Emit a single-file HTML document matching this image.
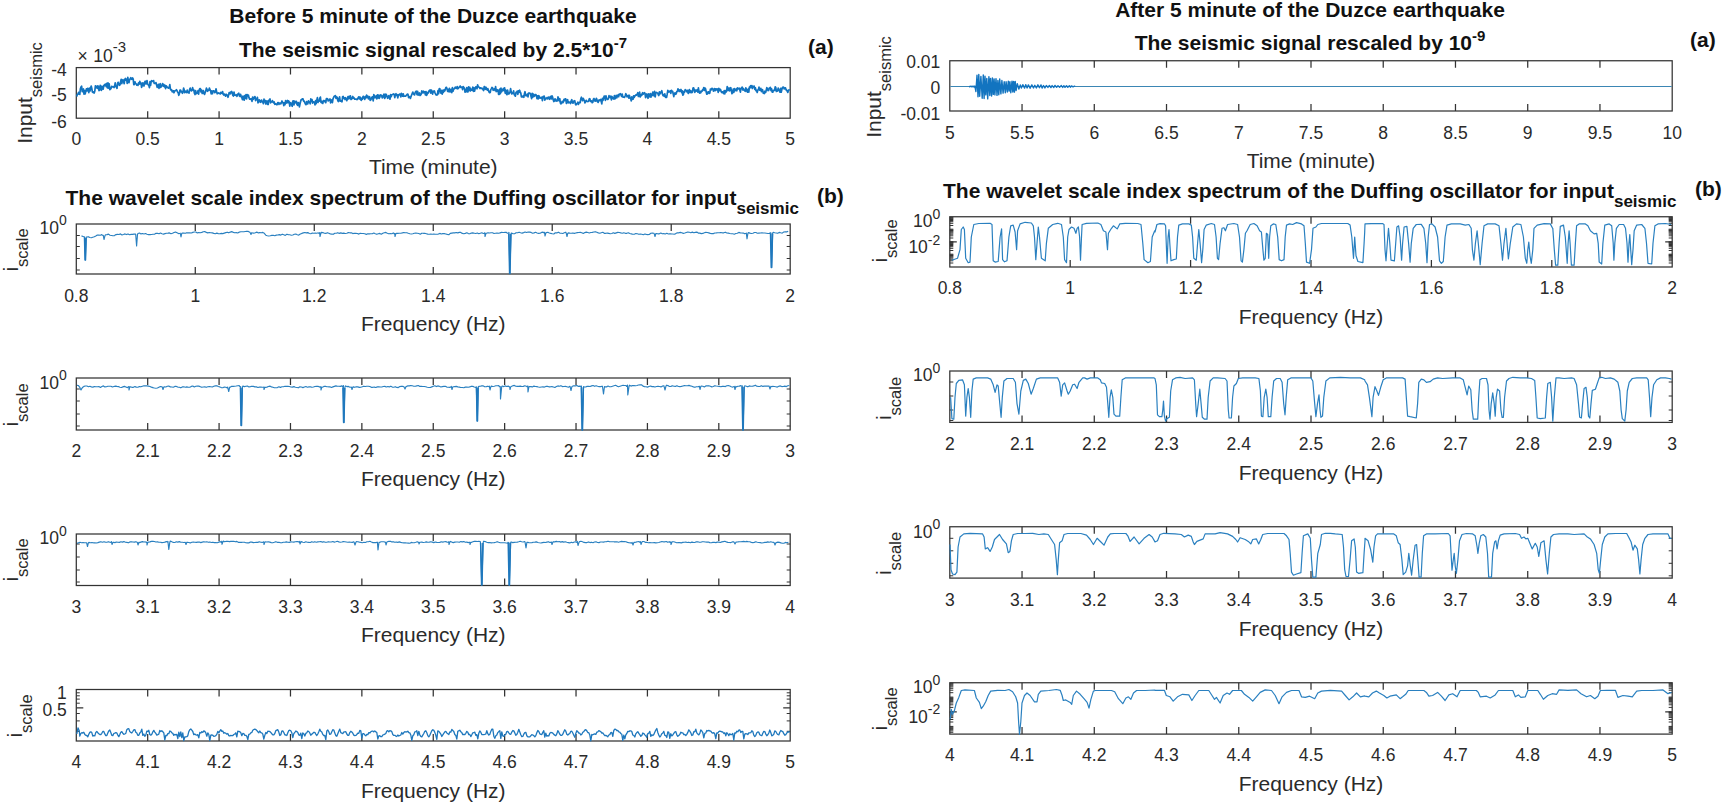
<!DOCTYPE html>
<html><head><meta charset="utf-8"><title>Duzce earthquake - wavelet scale index spectrum</title>
<style>
html,body{margin:0;padding:0;background:#fff;}
body{width:1725px;height:804px;overflow:hidden;}
svg{display:block;font-family:"Liberation Sans",Arial,Helvetica,sans-serif;}
.tk{font-size:17.5px;fill:#2a2a2a;}
.lb{font-size:21px;fill:#2a2a2a;}
.tt{font-size:21px;font-weight:bold;fill:#111;}
</style></head><body>
<svg width="1725" height="804" viewBox="0 0 1725 804">
<rect width="1725" height="804" fill="#fff"/>
<rect x="76.3" y="67.6" width="713.9000000000001" height="50.60000000000001" fill="none" stroke="#333333" stroke-width="1.25"/>
<text x="76.30" y="145" class="tk" text-anchor="middle">0</text>
<path d="M147.69 118.2v-7M147.69 67.6v7" stroke="#333333" stroke-width="1.25"/>
<text x="147.69" y="145" class="tk" text-anchor="middle">0.5</text>
<path d="M219.08 118.2v-7M219.08 67.6v7" stroke="#333333" stroke-width="1.25"/>
<text x="219.08" y="145" class="tk" text-anchor="middle">1</text>
<path d="M290.47 118.2v-7M290.47 67.6v7" stroke="#333333" stroke-width="1.25"/>
<text x="290.47" y="145" class="tk" text-anchor="middle">1.5</text>
<path d="M361.86 118.2v-7M361.86 67.6v7" stroke="#333333" stroke-width="1.25"/>
<text x="361.86" y="145" class="tk" text-anchor="middle">2</text>
<path d="M433.25 118.2v-7M433.25 67.6v7" stroke="#333333" stroke-width="1.25"/>
<text x="433.25" y="145" class="tk" text-anchor="middle">2.5</text>
<path d="M504.64 118.2v-7M504.64 67.6v7" stroke="#333333" stroke-width="1.25"/>
<text x="504.64" y="145" class="tk" text-anchor="middle">3</text>
<path d="M576.03 118.2v-7M576.03 67.6v7" stroke="#333333" stroke-width="1.25"/>
<text x="576.03" y="145" class="tk" text-anchor="middle">3.5</text>
<path d="M647.42 118.2v-7M647.42 67.6v7" stroke="#333333" stroke-width="1.25"/>
<text x="647.42" y="145" class="tk" text-anchor="middle">4</text>
<path d="M718.81 118.2v-7M718.81 67.6v7" stroke="#333333" stroke-width="1.25"/>
<text x="718.81" y="145" class="tk" text-anchor="middle">4.5</text>
<text x="790.20" y="145" class="tk" text-anchor="middle">5</text>
<text x="433.25" y="173.5" class="lb" text-anchor="middle">Time (minute)</text>
<text x="66.8" y="76.2" class="tk" text-anchor="end">-4</text>
<text x="66.8" y="100.8" class="tk" text-anchor="end">-5</text>
<text x="66.8" y="127.6" class="tk" text-anchor="end">-6</text>
<text x="77.5" y="62" class="tk">×<tspan dx="5.5">10</tspan><tspan dy="-10" style="font-size:15px">-3</tspan></text>
<text transform="translate(31.6 93) rotate(-90)" class="lb" text-anchor="middle" style="font-size:21px">Input<tspan dy="10" style="font-size:16.5px">seismic</tspan></text>
<text x="433" y="23" class="tt" text-anchor="middle">Before 5 minute of the Duzce earthquake</text>
<text x="433" y="56.5" class="tt" text-anchor="middle">The seismic signal rescaled by 2.5*10<tspan dy="-9" style="font-size:15px">-7</tspan></text>
<text x="808" y="54" class="tt">(a)</text>
<text x="65.5" y="204.5" class="tt">The wavelet scale index spectrum of the Duffing oscillator for input<tspan dy="9.5" style="font-size:17px">seismic</tspan></text>
<text x="817" y="203" class="tt">(b)</text>
<path d="M76.8 96.4 77.4 94.3 78.0 94.2 78.6 92.3 79.2 93.9 79.8 94.4 80.4 88.7 81.0 87.0 81.6 86.2 82.2 91.7 82.8 89.8 83.4 88.9 84.0 94.1 84.6 90.5 85.2 93.8 85.8 91.2 86.4 88.9 87.0 90.9 87.6 88.4 88.2 89.1 88.8 92.7 89.4 88.0 90.0 91.0 90.6 88.2 91.2 86.0 91.8 88.5 92.4 92.1 93.0 92.4 93.6 91.9 94.2 93.1 94.8 91.1 95.4 85.9 96.0 86.1 96.6 87.3 97.2 88.4 97.8 85.8 98.4 86.6 99.0 90.6 99.6 90.1 100.2 85.3 100.8 86.0 101.4 90.5 102.0 86.3 102.6 86.9 103.2 89.2 103.8 85.4 104.4 85.8 105.0 84.3 105.6 84.2 106.2 86.6 106.8 83.4 107.4 88.0 108.0 82.8 108.6 88.2 109.2 83.9 109.8 89.7 110.4 89.0 111.0 88.5 111.6 86.4 112.2 87.0 112.8 86.7 113.4 86.7 114.0 87.6 114.6 86.3 115.2 82.9 115.8 86.6 116.4 87.0 117.0 88.3 117.6 83.3 118.2 82.3 118.8 84.0 119.4 85.3 120.0 84.8 120.6 81.6 121.2 79.3 121.8 83.6 122.4 80.1 123.0 79.7 123.6 81.9 124.2 83.6 124.8 79.4 125.4 78.4 126.0 80.2 126.6 79.2 127.2 83.4 127.8 77.3 128.4 80.9 129.0 82.7 129.6 79.5 130.2 78.7 130.8 77.7 131.4 79.3 132.0 79.1 132.6 77.9 133.2 79.2 133.8 84.7 134.4 84.4 135.0 81.8 135.6 83.7 136.2 83.8 136.8 85.0 137.4 84.7 138.0 85.3 138.6 82.8 139.2 84.1 139.8 81.3 140.4 83.9 141.0 83.0 141.6 87.4 142.2 84.6 142.8 82.9 143.4 85.7 144.0 85.9 144.6 82.3 145.2 81.2 145.8 83.8 146.4 83.9 147.0 80.5 147.6 83.9 148.2 84.9 148.8 85.4 149.4 87.6 150.0 81.5 150.6 85.4 151.2 81.3 151.8 80.7 152.4 81.3 153.0 81.6 153.6 80.6 154.2 83.4 154.8 83.5 155.4 83.3 156.0 82.7 156.6 85.0 157.2 87.4 157.8 86.5 158.4 84.3 159.0 88.3 159.6 84.6 160.2 83.7 160.8 87.5 161.4 86.1 162.0 85.4 162.6 83.5 163.2 86.1 163.8 84.6 164.4 86.8 165.0 85.2 165.6 88.7 166.2 85.8 166.8 86.8 167.4 87.2 168.0 87.8 168.6 88.2 169.2 87.4 169.8 84.7 170.4 89.0 171.0 90.1 171.6 89.7 172.2 91.7 172.8 91.8 173.4 90.8 174.0 92.8 174.6 91.1 175.2 90.8 175.8 90.5 176.4 89.7 177.0 90.7 177.6 91.9 178.2 92.7 178.8 95.3 179.4 93.7 180.0 90.0 180.6 90.0 181.2 91.9 181.8 91.7 182.4 93.3 183.0 92.1 183.6 88.1 184.2 90.0 184.8 92.7 185.4 91.2 186.0 91.7 186.6 92.6 187.2 90.1 187.8 92.5 188.4 92.7 189.0 93.0 189.6 89.4 190.2 88.1 190.8 90.3 191.4 90.9 192.0 90.3 192.6 87.6 193.2 90.0 193.8 89.8 194.4 93.1 195.0 94.5 195.6 90.6 196.2 93.7 196.8 93.5 197.4 92.8 198.0 90.7 198.6 94.1 199.2 89.8 199.8 88.7 200.4 88.7 201.0 92.0 201.6 90.0 202.2 93.5 202.8 93.0 203.4 90.6 204.0 93.7 204.6 94.3 205.2 92.5 205.8 90.9 206.4 88.2 207.0 89.4 207.6 91.3 208.2 90.2 208.8 90.2 209.4 88.0 210.0 89.7 210.6 90.9 211.2 93.9 211.8 90.8 212.4 93.7 213.0 91.2 213.6 90.8 214.2 91.2 214.8 92.7 215.4 92.2 216.0 88.8 216.6 91.6 217.2 93.8 217.8 93.4 218.4 92.8 219.0 93.3 219.6 93.4 220.2 94.0 220.8 92.3 221.4 93.2 222.0 93.3 222.6 91.6 223.2 94.2 223.8 95.0 224.4 94.1 225.0 94.4 225.6 96.2 226.2 94.3 226.8 94.7 227.4 95.6 228.0 97.3 228.6 95.0 229.2 92.5 229.8 92.6 230.4 93.8 231.0 91.7 231.6 91.4 232.2 92.7 232.8 95.3 233.4 96.1 234.0 92.0 234.6 95.1 235.2 94.8 235.8 95.4 236.4 95.0 237.0 96.3 237.6 94.0 238.2 94.3 238.8 93.2 239.4 96.1 240.0 96.4 240.6 94.4 241.2 96.3 241.8 97.6 242.4 99.6 243.0 96.0 243.6 98.8 244.2 100.2 244.8 95.7 245.4 98.4 246.0 94.6 246.6 98.8 247.2 94.5 247.8 95.8 248.4 95.2 249.0 97.7 249.6 99.1 250.2 99.3 250.8 98.9 251.4 98.8 252.0 101.4 252.6 97.2 253.2 99.5 253.8 98.2 254.4 96.9 255.0 96.6 255.6 100.7 256.2 99.5 256.8 99.1 257.4 97.4 258.0 102.9 258.6 101.8 259.2 99.8 259.8 100.3 260.4 102.3 261.0 102.0 261.6 100.1 262.2 101.6 262.8 102.1 263.4 103.6 264.0 99.1 264.6 102.0 265.2 100.5 265.8 104.0 266.4 101.8 267.0 100.8 267.6 104.4 268.2 104.5 268.8 100.6 269.4 99.9 270.0 98.9 270.6 102.8 271.2 101.8 271.8 102.0 272.4 100.6 273.0 101.8 273.6 102.9 274.2 102.0 274.8 104.3 275.4 103.8 276.0 103.9 276.6 104.7 277.2 104.6 277.8 102.6 278.4 102.6 279.0 104.4 279.6 103.1 280.2 103.3 280.8 103.9 281.4 102.7 282.0 101.0 282.6 102.7 283.2 102.5 283.8 105.7 284.4 102.8 285.0 104.7 285.6 100.7 286.2 103.2 286.8 102.1 287.4 100.5 288.0 102.8 288.6 100.9 289.2 102.0 289.8 106.1 290.4 102.7 291.0 103.0 291.6 104.7 292.2 106.3 292.8 101.0 293.4 100.9 294.0 104.9 294.6 101.1 295.2 102.9 295.8 101.5 296.4 101.4 297.0 104.5 297.6 105.3 298.2 102.6 298.8 103.2 299.4 106.9 300.0 104.0 300.6 101.5 301.2 99.5 301.8 99.6 302.4 98.8 303.0 98.9 303.6 101.1 304.2 101.2 304.8 102.6 305.4 103.9 306.0 104.7 306.6 101.6 307.2 103.9 307.8 103.8 308.4 100.8 309.0 102.2 309.6 102.1 310.2 103.8 310.8 98.9 311.4 101.3 312.0 99.6 312.6 103.1 313.2 101.7 313.8 102.2 314.4 102.1 315.0 104.9 315.6 100.6 316.2 103.6 316.8 100.2 317.4 97.6 318.0 102.4 318.6 100.8 319.2 101.2 319.8 98.1 320.4 97.1 321.0 102.3 321.6 101.3 322.2 103.2 322.8 103.4 323.4 100.6 324.0 100.5 324.6 101.6 325.2 100.6 325.8 102.7 326.4 98.7 327.0 98.7 327.6 98.8 328.2 101.0 328.8 100.3 329.4 100.0 330.0 99.0 330.6 102.8 331.2 100.4 331.8 99.8 332.4 102.7 333.0 98.9 333.6 97.5 334.2 96.3 334.8 96.1 335.4 95.6 336.0 98.4 336.6 97.0 337.2 97.5 337.8 100.5 338.4 101.6 339.0 98.7 339.6 96.8 340.2 101.1 340.8 100.9 341.4 101.3 342.0 101.8 342.6 96.8 343.2 96.4 343.8 98.5 344.4 97.9 345.0 99.5 345.6 97.7 346.2 99.2 346.8 100.7 347.4 98.6 348.0 96.6 348.6 98.9 349.2 96.3 349.8 98.5 350.4 95.8 351.0 99.5 351.6 99.2 352.2 98.1 352.8 96.5 353.4 98.2 354.0 97.7 354.6 99.2 355.2 99.2 355.8 99.1 356.4 99.0 357.0 99.7 357.6 99.0 358.2 97.7 358.8 96.8 359.4 98.9 360.0 97.0 360.6 99.4 361.2 100.4 361.8 98.1 362.4 99.3 363.0 96.6 363.6 96.4 364.2 98.2 364.8 99.4 365.4 96.6 366.0 97.9 366.6 95.2 367.2 97.5 367.8 96.1 368.4 98.9 369.0 97.2 369.6 96.7 370.2 100.3 370.8 99.9 371.4 98.4 372.0 97.0 372.6 96.9 373.2 100.8 373.8 94.7 374.4 96.1 375.0 97.8 375.6 96.4 376.2 95.9 376.8 98.8 377.4 94.9 378.0 97.8 378.6 95.0 379.2 98.4 379.8 97.4 380.4 94.9 381.0 95.2 381.6 95.3 382.2 97.9 382.8 97.2 383.4 95.5 384.0 94.1 384.6 98.5 385.2 97.4 385.8 94.1 386.4 94.8 387.0 96.4 387.6 98.3 388.2 97.1 388.8 95.7 389.4 97.8 390.0 99.2 390.6 94.7 391.2 96.7 391.8 94.7 392.4 94.5 393.0 94.2 393.6 93.9 394.2 94.5 394.8 97.6 395.4 94.4 396.0 93.7 396.6 95.5 397.2 94.7 397.8 97.8 398.4 94.8 399.0 94.9 399.6 94.1 400.2 94.1 400.8 96.9 401.4 93.3 402.0 95.0 402.6 96.2 403.2 93.8 403.8 96.3 404.4 96.0 405.0 96.2 405.6 96.2 406.2 95.4 406.8 94.9 407.4 94.1 408.0 94.3 408.6 97.6 409.2 96.6 409.8 97.0 410.4 98.4 411.0 96.6 411.6 95.0 412.2 93.5 412.8 92.1 413.4 93.7 414.0 94.6 414.6 94.9 415.2 92.4 415.8 91.5 416.4 91.1 417.0 94.6 417.6 91.3 418.2 95.2 418.8 93.7 419.4 92.9 420.0 95.5 420.6 95.0 421.2 94.1 421.8 90.8 422.4 92.2 423.0 92.9 423.6 91.2 424.2 92.7 424.8 91.8 425.4 94.9 426.0 91.5 426.6 95.3 427.2 94.2 427.8 92.5 428.4 92.8 429.0 90.9 429.6 90.3 430.2 90.0 430.8 93.2 431.4 90.0 432.0 92.2 432.6 94.1 433.2 91.1 433.8 91.8 434.4 91.0 435.0 92.8 435.6 94.1 436.2 95.1 436.8 94.5 437.4 94.9 438.0 90.6 438.6 93.7 439.2 88.8 439.8 88.6 440.4 91.4 441.0 93.1 441.6 90.3 442.2 94.1 442.8 90.4 443.4 92.4 444.0 89.9 444.6 91.0 445.2 89.8 445.8 87.7 446.4 87.3 447.0 88.6 447.6 91.3 448.2 89.5 448.8 91.7 449.4 88.4 450.0 91.9 450.6 91.3 451.2 89.3 451.8 92.6 452.4 87.5 453.0 91.2 453.6 89.2 454.2 88.9 454.8 87.9 455.4 87.1 456.0 88.4 456.6 88.5 457.2 86.5 457.8 88.8 458.4 88.4 459.0 87.5 459.6 86.6 460.2 86.0 460.8 87.4 461.4 87.0 462.0 87.2 462.6 89.6 463.2 86.5 463.8 87.6 464.4 88.0 465.0 92.2 465.6 89.5 466.2 91.7 466.8 87.7 467.4 92.0 468.0 92.0 468.6 86.9 469.2 90.3 469.8 87.3 470.4 91.0 471.0 89.1 471.6 90.2 472.2 90.2 472.8 87.2 473.4 91.3 474.0 87.9 474.6 91.1 475.2 88.3 475.8 86.8 476.4 87.2 477.0 88.8 477.6 84.8 478.2 86.1 478.8 87.1 479.4 87.5 480.0 88.6 480.6 87.9 481.2 88.1 481.8 88.6 482.4 88.3 483.0 89.6 483.6 90.6 484.2 86.5 484.8 87.0 485.4 89.3 486.0 87.3 486.6 89.2 487.2 90.0 487.8 88.6 488.4 90.4 489.0 91.9 489.6 92.6 490.2 92.5 490.8 89.6 491.4 88.6 492.0 87.4 492.6 87.9 493.2 90.3 493.8 89.4 494.4 89.0 495.0 90.4 495.6 86.7 496.2 91.6 496.8 89.5 497.4 91.2 498.0 90.0 498.6 94.4 499.2 94.3 499.8 89.2 500.4 93.6 501.0 88.1 501.6 91.8 502.2 90.9 502.8 89.6 503.4 88.5 504.0 90.7 504.6 87.9 505.2 93.2 505.8 90.2 506.4 93.8 507.0 94.7 507.6 90.2 508.2 93.2 508.8 94.1 509.4 93.3 510.0 92.1 510.6 88.6 511.2 91.8 511.8 93.9 512.4 93.3 513.0 92.8 513.6 90.9 514.2 94.6 514.8 95.2 515.4 96.2 516.0 92.3 516.6 92.4 517.2 91.2 517.8 94.3 518.4 90.8 519.0 92.5 519.6 90.2 520.2 91.8 520.8 93.2 521.4 96.9 522.0 96.1 522.6 96.9 523.2 95.8 523.8 97.3 524.4 94.0 525.0 91.7 525.6 95.2 526.2 95.8 526.8 95.5 527.4 94.1 528.0 96.8 528.6 93.0 529.2 93.2 529.8 93.1 530.4 93.6 531.0 96.3 531.6 98.6 532.2 93.4 532.8 97.1 533.4 94.0 534.0 96.4 534.6 96.1 535.2 94.5 535.8 94.6 536.4 95.4 537.0 98.7 537.6 95.8 538.2 98.9 538.8 95.7 539.4 96.8 540.0 98.2 540.6 97.6 541.2 98.1 541.8 97.2 542.4 100.6 543.0 96.5 543.6 96.8 544.2 96.2 544.8 100.2 545.4 98.8 546.0 98.1 546.6 98.6 547.2 97.5 547.8 98.8 548.4 98.1 549.0 96.9 549.6 99.3 550.2 98.5 550.8 96.4 551.4 98.9 552.0 95.9 552.6 97.2 553.2 99.8 553.8 101.5 554.4 101.1 555.0 98.8 555.6 99.4 556.2 101.1 556.8 100.7 557.4 100.8 558.0 96.9 558.6 98.7 559.2 100.8 559.8 98.7 560.4 103.1 561.0 103.9 561.6 103.0 562.2 101.4 562.8 102.7 563.4 101.9 564.0 99.4 564.6 100.5 565.2 98.8 565.8 99.1 566.4 103.5 567.0 100.5 567.6 99.6 568.2 102.8 568.8 101.9 569.4 102.7 570.0 102.1 570.6 103.5 571.2 100.9 571.8 99.7 572.4 102.4 573.0 103.2 573.6 101.7 574.2 100.7 574.8 100.9 575.4 104.1 576.0 104.9 576.6 103.7 577.2 103.7 577.8 102.2 578.4 104.5 579.0 102.7 579.6 102.1 580.2 102.7 580.8 98.8 581.4 97.2 582.0 98.9 582.6 100.6 583.2 98.4 583.8 99.5 584.4 100.8 585.0 102.9 585.6 101.9 586.2 100.4 586.8 101.1 587.4 101.5 588.0 101.6 588.6 101.3 589.2 99.0 589.8 98.6 590.4 101.0 591.0 101.5 591.6 100.9 592.2 102.7 592.8 102.3 593.4 99.1 594.0 98.5 594.6 100.9 595.2 99.7 595.8 101.1 596.4 98.3 597.0 99.9 597.6 101.7 598.2 102.4 598.8 100.1 599.4 100.7 600.0 99.8 600.6 99.5 601.2 101.4 601.8 103.9 602.4 98.3 603.0 100.4 603.6 98.2 604.2 96.1 604.8 96.3 605.4 100.3 606.0 95.8 606.6 99.0 607.2 98.9 607.8 99.5 608.4 98.5 609.0 95.6 609.6 96.6 610.2 97.6 610.8 96.1 611.4 99.8 612.0 96.5 612.6 98.3 613.2 98.0 613.8 99.0 614.4 95.7 615.0 98.8 615.6 97.7 616.2 95.4 616.8 97.9 617.4 95.7 618.0 94.9 618.6 96.7 619.2 94.1 619.8 94.5 620.4 93.7 621.0 94.9 621.6 96.3 622.2 94.1 622.8 97.0 623.4 97.1 624.0 97.2 624.6 97.3 625.2 95.8 625.8 93.7 626.4 95.0 627.0 96.8 627.6 96.4 628.2 95.3 628.8 98.2 629.4 95.4 630.0 97.8 630.6 97.8 631.2 100.9 631.8 96.9 632.4 97.9 633.0 99.3 633.6 95.8 634.2 97.5 634.8 95.8 635.4 95.6 636.0 94.9 636.6 95.1 637.2 94.2 637.8 92.7 638.4 96.5 639.0 96.4 639.6 92.2 640.2 96.9 640.8 96.1 641.4 94.5 642.0 95.0 642.6 92.7 643.2 94.1 643.8 93.5 644.4 92.7 645.0 93.3 645.6 97.6 646.2 95.0 646.8 94.0 647.4 96.6 648.0 98.3 648.6 93.9 649.2 94.2 649.8 96.9 650.4 93.7 651.0 97.2 651.6 94.0 652.2 95.5 652.8 92.0 653.4 92.9 654.0 95.8 654.6 91.4 655.2 96.8 655.8 93.0 656.4 92.4 657.0 92.8 657.6 93.0 658.2 94.5 658.8 95.6 659.4 91.8 660.0 94.0 660.6 92.0 661.2 92.5 661.8 90.7 662.4 93.9 663.0 95.5 663.6 94.8 664.2 96.2 664.8 93.8 665.4 97.0 666.0 97.5 666.6 97.4 667.2 94.2 667.8 90.3 668.4 91.5 669.0 92.0 669.6 91.3 670.2 90.8 670.8 93.4 671.4 90.3 672.0 91.2 672.6 91.3 673.2 93.9 673.8 96.6 674.4 93.3 675.0 92.8 675.6 94.3 676.2 93.7 676.8 91.6 677.4 91.4 678.0 88.8 678.6 90.2 679.2 91.5 679.8 90.0 680.4 91.0 681.0 89.5 681.6 92.6 682.2 90.8 682.8 95.1 683.4 94.7 684.0 91.3 684.6 92.0 685.2 89.6 685.8 90.7 686.4 90.4 687.0 91.9 687.6 90.4 688.2 93.4 688.8 91.5 689.4 89.5 690.0 92.7 690.6 90.9 691.2 91.0 691.8 92.7 692.4 92.1 693.0 88.0 693.6 87.8 694.2 89.8 694.8 92.4 695.4 91.2 696.0 90.0 696.6 91.1 697.2 90.0 697.8 92.1 698.4 87.9 699.0 91.9 699.6 93.1 700.2 91.4 700.8 92.8 701.4 91.0 702.0 91.4 702.6 89.7 703.2 89.8 703.8 87.5 704.4 90.5 705.0 88.0 705.6 88.9 706.2 92.1 706.8 94.2 707.4 93.8 708.0 91.9 708.6 91.8 709.2 93.4 709.8 93.1 710.4 89.2 711.0 90.0 711.6 88.6 712.2 88.4 712.8 88.9 713.4 91.1 714.0 90.6 714.6 88.6 715.2 90.7 715.8 88.9 716.4 88.9 717.0 90.0 717.6 89.0 718.2 92.4 718.8 88.4 719.4 90.8 720.0 89.2 720.6 89.7 721.2 91.8 721.8 92.6 722.4 91.8 723.0 92.8 723.6 93.6 724.2 90.6 724.8 93.9 725.4 90.7 726.0 92.1 726.6 91.3 727.2 86.6 727.8 88.0 728.4 90.5 729.0 88.1 729.6 90.8 730.2 88.0 730.8 87.6 731.4 90.9 732.0 93.7 732.6 92.3 733.2 89.2 733.8 92.4 734.4 88.7 735.0 90.8 735.6 89.6 736.2 89.0 736.8 90.8 737.4 87.9 738.0 88.8 738.6 88.8 739.2 88.2 739.8 89.7 740.4 92.1 741.0 88.2 741.6 87.9 742.2 87.1 742.8 90.0 743.4 88.6 744.0 90.0 744.6 90.5 745.2 91.3 745.8 87.8 746.4 89.2 747.0 91.5 747.6 92.2 748.2 89.2 748.8 92.1 749.4 87.2 750.0 87.8 750.6 85.7 751.2 87.3 751.8 85.6 752.4 88.5 753.0 86.3 753.6 86.8 754.2 86.1 754.8 89.4 755.4 87.9 756.0 90.7 756.6 90.4 757.2 92.5 757.8 90.0 758.4 89.7 759.0 87.2 759.6 90.2 760.2 90.0 760.8 88.4 761.4 91.6 762.0 89.6 762.6 89.8 763.2 93.2 763.8 92.3 764.4 93.6 765.0 91.0 765.6 92.4 766.2 90.4 766.8 87.6 767.4 88.7 768.0 90.6 768.6 90.5 769.2 88.2 769.8 88.1 770.4 87.4 771.0 90.7 771.6 88.8 772.2 92.2 772.8 92.2 773.4 90.3 774.0 90.4 774.6 90.3 775.2 86.8 775.8 87.6 776.4 91.5 777.0 91.3 777.6 90.9 778.2 88.1 778.8 90.1 779.4 90.8 780.0 92.2 780.6 88.4 781.2 92.2 781.8 89.7 782.4 87.6 783.0 87.0 783.6 87.3 784.2 88.9 784.8 88.2 785.4 87.8 786.0 89.5 786.6 90.6 787.2 90.7 787.8 92.4 788.4 90.3 789.0 89.9 789.6 90.6" fill="none" stroke="#1274c0" stroke-width="1.7" stroke-linejoin="round" opacity="1"/>
<rect x="76.3" y="224" width="713.9000000000001" height="50" fill="none" stroke="#333333" stroke-width="1.25"/>
<text x="76.30" y="301.5" class="tk" text-anchor="middle">0.8</text>
<path d="M195.28 274v-7M195.28 224v7" stroke="#333333" stroke-width="1.25"/>
<text x="195.28" y="301.5" class="tk" text-anchor="middle">1</text>
<path d="M314.27 274v-7M314.27 224v7" stroke="#333333" stroke-width="1.25"/>
<text x="314.27" y="301.5" class="tk" text-anchor="middle">1.2</text>
<path d="M433.25 274v-7M433.25 224v7" stroke="#333333" stroke-width="1.25"/>
<text x="433.25" y="301.5" class="tk" text-anchor="middle">1.4</text>
<path d="M552.23 274v-7M552.23 224v7" stroke="#333333" stroke-width="1.25"/>
<text x="552.23" y="301.5" class="tk" text-anchor="middle">1.6</text>
<path d="M671.22 274v-7M671.22 224v7" stroke="#333333" stroke-width="1.25"/>
<text x="671.22" y="301.5" class="tk" text-anchor="middle">1.8</text>
<text x="790.20" y="301.5" class="tk" text-anchor="middle">2</text>
<text x="433.25" y="330.5" class="lb" text-anchor="middle">Frequency (Hz)</text>
<text x="66.8" y="233.8" class="tk" text-anchor="end">10<tspan dy="-8.5" style="font-size:14px">0</tspan></text>
<path d="M76.3 235.5h3.5M790.2 235.5h-3.5" stroke="#333333" stroke-width="1"/>
<path d="M76.3 246.5h3.5M790.2 246.5h-3.5" stroke="#333333" stroke-width="1"/>
<path d="M76.3 258.5h3.5M790.2 258.5h-3.5" stroke="#333333" stroke-width="1"/>
<path d="M76.3 270h3.5M790.2 270h-3.5" stroke="#333333" stroke-width="1"/>
<text transform="translate(18.3 250) rotate(-90)" class="lb" text-anchor="middle" style="font-size:21px">i<tspan dy="10" style="font-size:16.5px">scale</tspan></text>
<path d="M81.5 235.9 83.0 236.5 84.3 237.1 84.5 236.9 85.3 260.0 86.3 237.1 86.8 237.0 88.3 236.7 89.8 237.5 91.3 237.7 92.8 237.2 94.3 236.8 95.8 236.0 97.3 235.1 98.8 235.0 100.3 235.2 101.8 234.6 103.0 235.6 103.3 235.3 104.0 239.5 105.0 235.6 105.5 234.8 107.0 234.6 108.5 234.1 110.0 235.2 111.5 235.5 113.0 235.8 114.5 235.6 116.0 234.6 117.5 234.4 119.0 234.5 120.5 233.9 122.0 234.9 123.5 234.5 125.0 233.9 126.5 234.6 128.0 233.9 129.5 234.7 131.0 234.4 132.5 234.4 134.0 234.1 135.5 234.0 135.7 234.4 136.6 246.0 137.5 234.4 138.0 233.5 139.5 233.0 141.0 233.9 142.5 233.5 144.0 234.0 145.5 233.5 147.0 234.2 148.5 234.6 150.0 234.6 151.5 234.5 153.0 234.2 154.5 234.2 156.0 233.3 157.5 233.3 159.0 233.8 160.5 233.1 162.0 233.8 163.5 234.1 165.0 233.6 166.5 233.2 168.0 233.1 169.5 232.9 171.0 233.7 172.5 233.3 174.0 232.5 175.5 232.1 177.0 232.8 178.5 233.6 180.0 233.3 180.2 233.2 181.0 237.0 181.8 233.2 182.3 233.1 183.8 233.1 185.3 233.3 186.8 232.7 188.3 232.9 189.8 232.9 191.3 233.0 192.8 232.4 194.3 232.0 195.8 232.0 197.3 232.9 198.8 232.5 200.3 232.7 201.8 232.4 203.3 231.8 204.8 231.5 206.3 232.4 207.8 232.9 209.3 232.5 210.8 232.8 212.3 232.9 213.8 233.4 215.3 233.7 216.8 233.1 218.3 233.6 219.8 233.8 221.3 233.4 222.8 233.6 224.3 233.1 225.8 232.6 227.3 232.2 228.8 232.8 230.3 232.1 231.8 231.6 233.3 232.4 234.8 232.8 236.3 232.6 237.8 233.0 239.3 232.1 240.8 231.8 242.3 231.7 243.8 231.8 245.3 231.5 246.8 231.2 248.3 231.4 249.8 232.3 250.2 232.6 251.0 234.5 251.8 232.6 252.3 233.0 253.8 233.1 255.3 232.7 256.8 232.1 258.3 232.9 259.8 232.6 261.3 232.8 262.8 232.4 264.3 233.3 265.8 235.2 267.3 235.7 268.8 236.0 270.3 235.8 271.8 235.4 273.3 235.3 274.8 235.7 276.3 235.1 277.8 235.0 279.3 234.6 280.8 235.1 282.3 234.2 283.8 234.7 285.3 235.4 286.8 234.3 288.3 234.6 289.8 234.8 291.3 235.2 292.8 235.0 294.3 234.3 295.8 234.1 297.3 234.8 298.8 235.1 300.3 234.1 301.8 233.4 303.3 232.9 304.8 232.5 306.3 232.9 307.8 232.6 309.3 233.5 310.8 233.7 312.3 233.0 313.8 233.2 315.3 233.0 316.8 233.2 318.3 232.8 319.2 233.7 319.8 232.6 320.0 236.5 320.8 233.7 321.3 232.4 322.8 232.6 324.3 233.3 325.8 233.4 327.3 232.7 328.8 233.3 330.3 233.9 331.8 234.1 333.3 234.3 334.8 233.2 336.3 233.2 337.8 232.7 339.3 233.4 340.8 232.9 342.3 233.4 343.8 233.1 345.3 233.5 346.8 233.2 348.3 232.6 349.8 232.8 351.3 232.8 352.8 233.6 354.3 233.3 355.8 233.3 357.3 233.5 358.8 234.1 360.3 233.3 361.8 233.5 363.3 233.5 364.8 233.8 366.3 234.4 367.8 233.7 369.3 233.9 370.8 233.8 372.3 233.7 373.8 233.0 375.3 233.7 376.8 234.3 378.3 233.8 379.8 233.4 381.3 234.2 382.8 233.3 384.3 232.7 385.8 232.4 387.3 233.3 388.8 233.8 390.3 233.6 391.8 233.7 393.3 232.9 394.2 233.8 394.8 233.4 395.0 236.5 395.8 233.8 396.3 233.3 397.8 233.4 399.3 233.3 400.8 233.2 402.3 232.9 403.8 232.5 405.3 232.8 406.8 232.7 408.3 233.3 409.8 233.8 411.3 234.0 412.8 233.7 414.3 233.2 415.8 233.1 417.3 233.2 418.8 233.5 420.3 234.2 421.8 233.2 423.3 233.3 424.8 233.3 426.3 233.7 427.8 234.1 429.3 234.2 430.8 234.1 432.3 234.2 433.8 234.1 435.3 234.3 436.8 234.2 438.3 234.1 439.8 233.4 441.3 234.0 442.8 233.6 444.3 233.6 445.8 234.0 447.3 234.4 448.8 234.7 450.3 233.4 451.8 233.1 453.3 232.9 454.8 232.9 456.3 232.5 457.8 232.9 459.3 232.4 460.8 232.4 462.3 233.4 463.8 233.7 465.3 233.4 466.8 232.8 468.3 233.6 469.8 233.8 471.3 233.1 472.8 232.9 474.3 233.2 475.8 233.5 477.3 233.0 478.8 233.7 480.3 233.2 481.8 232.8 483.3 233.5 484.0 233.4 484.8 232.8 485.0 236.5 486.0 233.4 486.5 233.2 488.0 232.7 489.5 233.0 491.0 232.7 492.5 232.7 494.0 233.5 495.5 233.3 497.0 233.1 498.5 233.3 500.0 232.9 501.5 232.4 503.0 232.5 504.5 232.4 506.0 232.2 507.5 233.2 508.5 233.3 509.0 232.4 509.8 273.5 511.1 233.3 511.6 233.1 513.1 233.7 514.6 233.7 516.1 232.7 517.6 232.8 519.1 232.2 520.6 232.7 522.1 233.1 523.6 232.6 525.1 232.0 526.6 232.5 528.1 232.0 529.6 232.1 531.1 232.4 532.6 233.2 534.1 232.9 535.6 232.3 537.1 233.0 538.6 233.4 540.1 233.3 541.6 232.4 543.1 232.1 544.2 233.2 544.6 232.3 545.0 236.0 545.8 233.2 546.3 232.6 547.8 232.3 549.3 233.0 550.8 233.4 552.3 233.8 553.8 234.0 555.3 232.8 556.8 232.9 558.3 232.2 559.8 233.1 561.3 233.3 562.8 233.5 564.3 232.8 565.8 232.2 566.2 233.2 567.0 236.5 567.8 233.2 568.3 232.9 569.8 233.1 571.3 233.2 572.8 233.0 574.3 233.4 575.8 233.0 577.3 232.6 578.8 232.5 580.3 232.4 581.8 232.8 583.3 233.5 584.8 232.6 586.3 232.1 587.8 232.5 589.3 233.0 590.8 232.5 592.3 232.4 593.8 232.0 595.3 231.7 596.8 232.3 598.3 232.9 599.8 233.2 601.3 232.7 602.8 232.3 604.3 233.3 605.8 233.3 607.3 233.1 608.8 233.4 610.3 233.7 611.8 233.5 613.3 232.8 614.8 233.4 616.3 232.9 617.8 232.4 619.3 232.5 620.8 232.9 622.3 233.2 623.8 232.8 625.3 233.3 626.8 233.3 628.3 232.8 629.8 233.5 631.3 233.9 632.8 234.3 634.3 234.2 635.8 233.5 637.3 233.8 638.8 234.3 640.3 234.0 641.8 234.3 643.3 234.7 644.8 234.0 646.3 234.4 647.8 234.6 649.3 234.5 650.8 233.3 652.3 233.1 653.8 233.3 654.2 233.6 655.0 236.5 655.8 233.6 656.3 233.5 657.8 233.8 659.3 233.8 660.8 233.1 662.3 233.8 663.8 233.6 665.3 234.0 666.8 233.3 668.3 234.0 669.8 233.7 671.3 233.9 672.8 234.0 674.3 234.2 675.8 233.6 677.3 232.8 678.8 232.8 680.3 232.4 681.8 232.8 683.3 233.4 684.8 233.0 686.3 232.5 687.8 232.0 689.3 232.3 690.8 232.7 692.3 232.1 693.8 232.7 695.3 232.4 696.8 232.1 698.3 233.1 699.8 233.1 701.3 233.6 702.8 233.4 704.3 232.7 705.8 232.4 707.3 232.5 708.8 232.9 710.3 233.4 711.8 233.6 713.3 233.6 714.8 233.0 716.3 232.9 717.8 232.7 719.3 232.8 720.8 232.5 722.3 232.8 723.8 232.8 725.3 232.2 726.8 233.0 728.3 233.1 729.8 233.5 731.3 233.7 732.8 233.8 734.3 234.2 735.8 233.5 737.3 233.2 738.8 232.4 740.3 232.9 741.8 233.0 743.3 233.1 744.8 233.8 746.1 233.3 746.3 233.0 747.0 238.8 747.9 233.3 748.4 232.6 749.9 233.1 751.4 233.5 752.9 233.3 754.4 232.5 755.9 232.5 757.4 233.2 758.9 233.1 760.4 233.0 761.9 232.8 763.4 233.0 764.9 233.0 766.4 233.2 767.9 233.5 769.4 233.5 770.3 232.8 770.9 232.9 771.5 267.5 772.7 232.8 773.2 232.3 774.7 232.7 776.2 233.0 777.7 233.3 779.2 232.4 780.7 232.8 782.2 233.1 783.7 232.0 785.2 231.7 786.7 231.9 788.2 231.3" fill="none" stroke="#2a80c0" stroke-width="1.15" stroke-linejoin="round" opacity="1"/>
<rect x="76.3" y="378" width="713.9000000000001" height="52" fill="none" stroke="#333333" stroke-width="1.25"/>
<text x="76.30" y="457" class="tk" text-anchor="middle">2</text>
<path d="M147.69 430v-7M147.69 378v7" stroke="#333333" stroke-width="1.25"/>
<text x="147.69" y="457" class="tk" text-anchor="middle">2.1</text>
<path d="M219.08 430v-7M219.08 378v7" stroke="#333333" stroke-width="1.25"/>
<text x="219.08" y="457" class="tk" text-anchor="middle">2.2</text>
<path d="M290.47 430v-7M290.47 378v7" stroke="#333333" stroke-width="1.25"/>
<text x="290.47" y="457" class="tk" text-anchor="middle">2.3</text>
<path d="M361.86 430v-7M361.86 378v7" stroke="#333333" stroke-width="1.25"/>
<text x="361.86" y="457" class="tk" text-anchor="middle">2.4</text>
<path d="M433.25 430v-7M433.25 378v7" stroke="#333333" stroke-width="1.25"/>
<text x="433.25" y="457" class="tk" text-anchor="middle">2.5</text>
<path d="M504.64 430v-7M504.64 378v7" stroke="#333333" stroke-width="1.25"/>
<text x="504.64" y="457" class="tk" text-anchor="middle">2.6</text>
<path d="M576.03 430v-7M576.03 378v7" stroke="#333333" stroke-width="1.25"/>
<text x="576.03" y="457" class="tk" text-anchor="middle">2.7</text>
<path d="M647.42 430v-7M647.42 378v7" stroke="#333333" stroke-width="1.25"/>
<text x="647.42" y="457" class="tk" text-anchor="middle">2.8</text>
<path d="M718.81 430v-7M718.81 378v7" stroke="#333333" stroke-width="1.25"/>
<text x="718.81" y="457" class="tk" text-anchor="middle">2.9</text>
<text x="790.20" y="457" class="tk" text-anchor="middle">3</text>
<text x="433.25" y="485.6" class="lb" text-anchor="middle">Frequency (Hz)</text>
<text x="66.8" y="388.8" class="tk" text-anchor="end">10<tspan dy="-8.5" style="font-size:14px">0</tspan></text>
<path d="M76.3 389h3.5M790.2 389h-3.5" stroke="#333333" stroke-width="1"/>
<path d="M76.3 401h3.5M790.2 401h-3.5" stroke="#333333" stroke-width="1"/>
<path d="M76.3 414h3.5M790.2 414h-3.5" stroke="#333333" stroke-width="1"/>
<path d="M76.3 426h3.5M790.2 426h-3.5" stroke="#333333" stroke-width="1"/>
<text transform="translate(18.3 405) rotate(-90)" class="lb" text-anchor="middle" style="font-size:21px">i<tspan dy="10" style="font-size:16.5px">scale</tspan></text>
<path d="M77.0 385.3 78.5 385.6 80.0 387.7 80.1 388.4 81.0 390.0 81.9 388.4 82.4 387.4 83.9 386.4 85.4 386.0 86.9 386.0 88.4 386.7 89.9 386.3 91.4 386.9 92.9 387.1 94.4 386.5 95.9 386.7 97.4 386.7 98.9 386.6 100.4 387.4 101.9 386.5 103.4 385.9 104.9 386.9 106.4 386.7 107.9 386.2 109.4 386.2 110.9 386.2 112.4 387.0 113.9 386.5 115.4 386.1 116.9 386.4 118.4 386.6 119.9 387.3 121.4 387.5 122.9 386.9 124.4 386.4 125.9 387.0 127.4 387.6 128.2 386.9 128.9 386.5 129.0 390.0 129.8 386.9 130.4 386.9 131.9 387.3 133.4 387.3 134.9 386.6 136.4 387.1 137.9 387.2 139.4 386.5 140.9 386.8 142.4 386.3 143.9 385.8 145.4 385.9 146.9 385.9 148.4 386.1 149.9 386.5 151.4 387.1 152.9 387.6 154.4 388.0 155.9 388.2 157.4 388.0 158.9 387.2 160.4 386.5 161.9 386.8 162.2 387.0 163.0 389.5 163.8 387.0 164.3 386.8 165.8 387.0 167.3 386.3 168.8 386.0 170.3 386.9 171.8 387.0 173.3 387.2 174.8 386.4 176.3 386.4 177.8 387.1 179.3 387.2 180.8 387.8 182.3 386.9 183.8 386.8 185.3 387.2 186.8 386.9 188.3 387.3 189.8 387.2 191.3 386.4 192.8 386.0 194.3 387.0 195.8 386.3 197.3 386.1 198.8 386.1 200.3 386.7 201.8 387.3 203.3 387.0 204.8 386.9 206.3 387.3 207.8 386.8 209.3 386.6 210.8 386.8 212.3 387.0 213.8 386.3 215.3 385.9 216.8 385.7 218.3 386.5 219.8 386.9 221.3 387.6 222.8 387.7 224.3 387.0 225.8 387.3 227.3 387.9 227.7 387.1 228.7 391.5 229.7 387.1 230.2 387.2 231.7 386.3 233.2 386.4 234.7 386.2 236.2 386.0 237.7 385.7 239.2 385.6 240.2 387.2 240.7 386.6 241.3 425.5 242.4 387.2 242.9 386.1 244.4 386.6 245.9 386.3 247.4 386.0 248.9 386.9 250.4 386.6 251.9 386.2 253.4 386.4 254.9 386.9 256.4 386.9 257.9 387.5 259.4 387.1 260.9 387.1 262.4 387.3 263.2 387.2 263.9 387.1 264.0 389.5 264.8 387.2 265.4 387.4 266.9 387.1 268.4 386.5 269.9 386.1 271.4 386.9 272.9 387.3 274.4 387.8 275.9 387.7 277.4 387.6 278.9 386.8 280.4 387.4 281.9 386.7 283.4 386.7 284.9 386.3 286.4 386.4 287.9 386.3 289.4 386.5 290.9 387.0 292.4 387.1 293.9 386.6 295.4 387.2 296.9 387.5 298.4 387.8 299.9 386.8 301.4 387.0 302.9 387.6 304.4 387.0 305.9 386.5 307.4 387.2 308.9 386.9 310.4 386.8 311.9 387.3 313.4 387.0 314.9 386.5 316.4 386.3 317.9 386.3 319.4 386.9 320.2 387.2 320.9 386.7 321.0 390.0 321.8 387.2 322.4 387.2 323.9 386.4 325.4 386.2 326.9 386.7 328.4 386.8 329.9 386.8 331.4 387.5 332.9 386.9 334.4 386.4 335.9 385.9 337.4 386.3 338.9 386.2 340.4 386.4 341.9 385.9 342.7 387.2 343.4 385.5 343.8 422.5 344.9 387.2 345.4 385.9 346.9 386.6 348.4 386.4 349.9 387.2 351.2 387.1 351.4 387.2 352.0 389.5 352.8 387.1 353.3 386.9 354.8 387.3 356.3 386.7 357.8 386.9 359.3 387.4 360.8 387.2 362.3 386.8 363.8 386.2 365.3 386.5 366.8 386.2 368.3 386.2 369.8 386.5 371.3 387.3 372.8 387.3 374.3 387.1 375.8 387.5 377.3 386.9 378.8 386.7 380.3 387.0 381.8 387.0 383.3 386.5 384.8 386.4 386.3 387.0 387.8 386.5 389.3 386.9 390.8 386.2 392.3 387.1 393.8 387.2 395.3 386.7 396.8 387.4 398.3 387.6 399.8 386.6 401.3 386.2 402.8 386.4 404.2 387.0 404.3 387.3 405.0 389.0 405.8 387.0 406.3 386.5 407.8 385.9 409.3 385.9 410.8 385.5 412.3 385.8 413.8 386.2 415.3 386.3 416.8 385.9 418.3 385.5 419.8 386.4 421.3 386.4 422.8 386.5 424.3 386.5 425.8 386.8 427.3 387.3 428.8 387.5 430.3 387.5 431.8 386.9 433.3 386.3 434.8 385.8 436.3 386.6 437.8 385.9 439.3 386.3 440.8 387.0 442.3 386.6 443.8 386.4 445.3 386.3 446.8 387.1 448.3 387.2 449.8 387.4 451.2 386.8 451.3 386.4 452.0 389.5 452.8 386.8 453.3 386.8 454.8 386.6 456.3 386.4 457.8 386.9 459.3 387.1 460.8 387.5 462.3 387.5 463.8 387.7 465.3 387.1 466.8 387.0 468.3 387.2 469.8 386.9 471.3 386.2 472.8 386.4 474.3 387.0 475.8 387.4 476.3 386.8 477.3 421.0 478.3 386.8 478.8 386.4 480.3 386.3 481.8 385.9 483.3 385.9 484.8 386.8 486.3 386.6 487.8 386.2 489.2 386.8 489.3 386.0 490.0 390.0 490.8 386.8 491.3 386.1 492.8 386.5 494.3 386.2 495.8 385.8 497.3 385.7 498.8 385.6 499.3 386.7 500.3 386.6 500.5 399.0 501.7 386.7 502.2 386.0 503.7 386.6 505.2 385.9 506.7 386.5 508.2 386.1 509.2 386.7 509.7 386.7 510.0 389.5 510.8 386.7 511.3 386.5 512.8 385.8 514.3 385.4 515.8 386.3 517.3 386.4 518.8 386.4 520.3 386.1 521.8 386.5 523.3 386.4 524.8 385.8 526.3 386.2 527.1 386.7 527.8 386.0 528.0 392.0 528.9 386.7 529.4 386.6 530.9 386.6 532.4 386.9 533.9 386.1 535.4 386.5 536.9 386.6 538.4 387.0 539.9 387.3 541.4 387.0 542.9 386.9 544.4 387.1 545.9 386.4 547.4 386.4 548.9 386.8 550.4 386.8 551.9 386.6 553.4 387.0 554.9 387.5 556.4 386.6 557.9 385.9 559.4 386.2 560.9 385.7 562.4 386.6 563.9 386.5 565.4 386.4 566.9 386.8 568.4 387.2 569.9 386.3 570.1 386.6 571.0 390.5 571.9 386.6 572.4 386.2 573.9 385.7 575.4 385.9 576.9 385.5 578.4 386.4 579.9 386.1 581.0 386.5 581.4 386.0 582.3 430.0 583.6 386.5 584.1 386.7 585.6 387.0 587.1 386.4 588.6 386.3 590.1 386.5 591.6 385.9 593.1 385.5 594.6 386.3 596.1 385.8 597.6 386.3 599.1 386.6 600.6 386.6 602.1 386.2 602.5 386.5 603.5 394.0 604.5 386.5 605.0 386.7 606.5 386.9 608.0 386.0 609.5 386.7 611.0 386.7 612.5 386.2 614.0 385.7 615.5 385.3 617.0 386.1 618.5 386.7 620.0 386.2 621.5 385.7 623.0 385.3 624.5 385.5 626.0 385.5 626.6 386.5 627.5 385.1 627.8 395.0 629.0 386.5 629.5 385.2 631.0 386.1 632.5 385.5 634.0 385.6 635.5 385.8 637.0 385.5 638.5 385.0 640.0 384.9 641.5 384.8 643.0 386.1 644.5 386.6 646.0 386.8 647.5 387.1 649.0 386.5 650.5 386.0 652.0 386.6 653.5 386.6 655.0 387.0 656.5 386.5 658.0 386.2 659.5 386.5 661.0 386.9 662.5 386.1 664.0 385.8 664.1 386.4 665.0 390.0 665.9 386.4 666.4 385.2 667.9 385.6 669.4 386.5 670.9 386.4 672.4 385.8 673.9 386.2 675.4 386.4 676.9 385.7 678.4 386.5 679.9 386.6 681.4 386.4 682.9 386.0 684.4 385.6 685.9 385.7 687.4 385.7 688.9 385.4 690.4 385.9 691.9 386.2 693.4 386.9 694.9 387.3 696.4 386.7 697.9 386.8 699.2 386.4 699.4 386.3 700.0 389.5 700.8 386.4 701.3 386.1 702.8 386.2 704.3 386.9 705.8 385.9 707.3 385.9 708.8 385.7 710.3 386.3 711.8 386.9 713.3 386.5 714.8 385.7 716.3 386.0 717.8 386.2 719.3 386.4 720.8 386.7 722.3 386.4 723.8 386.3 725.3 386.6 726.8 385.7 728.3 385.5 729.8 386.0 731.3 386.7 732.8 387.1 734.2 386.4 734.3 386.4 735.0 389.5 735.8 386.4 736.3 387.0 737.8 386.3 739.3 386.1 740.8 385.6 741.7 386.3 742.3 385.9 743.0 430.0 744.3 386.3 744.8 385.8 746.3 386.2 747.8 386.8 749.3 385.9 750.8 386.2 752.3 386.3 753.8 385.9 755.3 385.2 756.8 386.2 758.3 386.4 759.8 386.5 761.3 385.7 762.8 386.4 764.3 386.1 765.8 386.0 767.3 386.1 768.8 386.0 769.2 386.3 770.0 389.0 770.8 386.3 771.3 386.7 772.8 386.4 774.3 386.5 775.8 386.7 777.3 387.1 778.8 386.2 780.3 385.9 781.8 386.6 783.3 386.5 784.8 386.1 786.3 386.6 787.8 385.8 789.3 385.5" fill="none" stroke="#2a80c0" stroke-width="1.15" stroke-linejoin="round" opacity="1"/>
<rect x="76.3" y="534" width="713.9000000000001" height="51.5" fill="none" stroke="#333333" stroke-width="1.25"/>
<text x="76.30" y="613" class="tk" text-anchor="middle">3</text>
<path d="M147.69 585.5v-7M147.69 534v7" stroke="#333333" stroke-width="1.25"/>
<text x="147.69" y="613" class="tk" text-anchor="middle">3.1</text>
<path d="M219.08 585.5v-7M219.08 534v7" stroke="#333333" stroke-width="1.25"/>
<text x="219.08" y="613" class="tk" text-anchor="middle">3.2</text>
<path d="M290.47 585.5v-7M290.47 534v7" stroke="#333333" stroke-width="1.25"/>
<text x="290.47" y="613" class="tk" text-anchor="middle">3.3</text>
<path d="M361.86 585.5v-7M361.86 534v7" stroke="#333333" stroke-width="1.25"/>
<text x="361.86" y="613" class="tk" text-anchor="middle">3.4</text>
<path d="M433.25 585.5v-7M433.25 534v7" stroke="#333333" stroke-width="1.25"/>
<text x="433.25" y="613" class="tk" text-anchor="middle">3.5</text>
<path d="M504.64 585.5v-7M504.64 534v7" stroke="#333333" stroke-width="1.25"/>
<text x="504.64" y="613" class="tk" text-anchor="middle">3.6</text>
<path d="M576.03 585.5v-7M576.03 534v7" stroke="#333333" stroke-width="1.25"/>
<text x="576.03" y="613" class="tk" text-anchor="middle">3.7</text>
<path d="M647.42 585.5v-7M647.42 534v7" stroke="#333333" stroke-width="1.25"/>
<text x="647.42" y="613" class="tk" text-anchor="middle">3.8</text>
<path d="M718.81 585.5v-7M718.81 534v7" stroke="#333333" stroke-width="1.25"/>
<text x="718.81" y="613" class="tk" text-anchor="middle">3.9</text>
<text x="790.20" y="613" class="tk" text-anchor="middle">4</text>
<text x="433.25" y="641.5" class="lb" text-anchor="middle">Frequency (Hz)</text>
<text x="66.8" y="544" class="tk" text-anchor="end">10<tspan dy="-8.5" style="font-size:14px">0</tspan></text>
<path d="M76.3 544h3.5M790.2 544h-3.5" stroke="#333333" stroke-width="1"/>
<path d="M76.3 557h3.5M790.2 557h-3.5" stroke="#333333" stroke-width="1"/>
<path d="M76.3 570h3.5M790.2 570h-3.5" stroke="#333333" stroke-width="1"/>
<path d="M76.3 582h3.5M790.2 582h-3.5" stroke="#333333" stroke-width="1"/>
<text transform="translate(18.3 560) rotate(-90)" class="lb" text-anchor="middle" style="font-size:21px">i<tspan dy="10" style="font-size:16.5px">scale</tspan></text>
<path d="M77.0 543.4 78.5 542.8 80.0 542.3 81.5 542.7 83.0 542.6 84.5 542.8 86.0 542.7 86.6 542.7 87.5 546.5 88.4 542.7 88.9 542.4 90.4 542.7 91.9 542.6 93.4 542.8 94.9 542.8 96.4 543.0 97.9 542.6 99.4 542.1 100.9 541.7 102.4 542.2 103.9 541.8 105.4 542.1 106.9 542.3 108.4 541.7 109.9 542.2 111.1 542.4 111.4 541.6 112.0 544.5 112.9 542.4 113.4 542.2 114.9 542.6 116.4 542.0 117.9 542.3 119.4 542.4 120.9 541.8 122.4 542.1 123.9 541.6 125.4 542.3 126.9 542.4 128.4 542.8 129.9 541.9 131.4 541.7 132.9 542.0 134.4 542.1 135.9 541.7 137.1 542.3 137.4 542.3 138.0 545.0 138.9 542.3 139.4 542.6 140.9 542.1 142.4 541.6 143.9 542.0 145.4 541.9 146.2 542.3 146.9 542.1 147.0 545.0 147.8 542.3 148.4 542.1 149.9 541.9 151.4 541.4 152.9 541.2 154.4 541.5 155.9 542.0 157.4 541.9 158.9 542.2 160.4 542.2 161.9 542.6 163.4 542.5 164.9 542.1 166.4 541.6 167.8 542.3 167.9 541.3 168.8 549.5 169.8 542.3 170.3 541.0 171.8 541.8 173.3 542.4 174.8 542.5 176.3 541.8 177.8 542.1 179.3 541.6 180.8 542.2 182.3 542.3 183.8 542.5 185.2 542.3 185.3 542.4 186.0 544.5 186.8 542.3 187.3 542.2 188.8 542.5 190.3 542.9 191.8 542.2 193.3 542.0 194.8 542.3 196.3 542.4 197.8 542.1 199.3 542.0 200.8 542.6 202.3 542.1 203.8 541.7 205.3 542.0 206.8 541.8 208.3 542.3 209.8 542.0 211.3 542.5 212.8 542.2 214.3 542.6 215.8 542.6 217.3 542.7 218.8 542.1 220.3 541.6 221.2 542.3 221.8 541.2 222.0 544.3 222.8 542.3 223.3 541.1 224.8 541.7 226.3 541.3 227.8 541.3 229.3 541.6 230.8 541.4 232.3 541.4 233.8 541.3 235.3 541.8 236.8 541.4 238.3 542.3 239.8 542.3 241.3 542.4 242.8 542.3 244.3 542.2 245.8 542.7 247.3 542.9 248.8 542.9 250.3 542.0 251.8 542.1 253.3 542.6 254.8 542.5 256.3 542.3 257.8 542.4 259.3 541.8 260.8 542.2 262.3 542.4 263.2 542.3 263.8 541.8 264.0 544.5 264.8 542.3 265.3 541.9 266.8 542.0 268.3 541.8 269.8 542.1 271.3 542.6 272.8 542.8 274.3 542.3 275.8 541.7 277.3 542.3 278.8 542.3 280.3 542.6 281.8 542.8 283.3 542.2 284.8 542.2 286.3 541.9 287.8 542.3 289.3 542.4 290.8 541.9 292.3 542.0 293.8 542.1 295.3 541.7 296.8 541.5 298.3 541.6 299.2 542.3 299.8 541.3 300.0 544.0 300.8 542.3 301.3 541.6 302.8 542.3 304.3 542.5 305.8 541.8 307.3 542.3 308.8 542.4 310.3 542.5 311.8 541.7 313.3 542.2 314.8 541.7 316.3 542.2 317.8 541.9 319.3 541.8 320.8 541.5 322.3 542.1 323.8 541.7 325.3 542.3 326.8 542.2 328.3 541.7 329.8 542.0 331.3 542.0 332.8 541.5 334.3 542.1 335.8 541.8 337.3 541.3 338.8 541.9 340.3 542.2 341.8 542.0 343.3 541.6 344.8 541.8 346.3 542.0 347.8 542.2 349.3 542.1 350.8 542.2 352.3 542.4 353.8 541.8 354.1 542.3 355.0 545.0 355.9 542.3 356.4 541.5 357.9 541.7 359.4 542.1 360.9 542.4 362.4 542.7 363.9 542.3 365.4 542.5 366.9 541.8 368.4 541.7 369.9 541.3 371.4 542.0 372.9 542.6 374.4 542.6 375.9 542.6 377.0 542.3 377.4 542.2 378.0 550.0 379.0 542.3 379.5 542.5 381.0 541.8 382.5 541.7 384.0 541.7 385.2 542.3 385.5 542.2 386.0 545.0 386.8 542.3 387.3 541.7 388.8 541.4 390.3 541.2 391.8 541.9 393.3 541.7 394.8 542.3 396.3 542.0 397.8 542.4 399.3 541.9 400.8 542.4 402.3 542.8 403.8 542.9 405.3 542.8 406.8 543.0 408.3 543.1 409.8 543.2 411.3 542.4 412.8 542.7 414.3 542.7 415.8 542.3 417.3 541.8 418.2 542.3 418.8 542.3 419.0 544.0 419.8 542.3 420.3 542.2 421.8 542.1 423.3 542.5 424.8 542.3 426.3 541.9 427.8 542.2 429.3 542.1 430.8 541.8 432.3 542.1 433.8 542.6 435.3 542.0 436.8 542.4 438.3 542.5 439.8 542.4 441.3 541.8 442.8 542.1 444.3 541.8 445.8 541.6 447.3 542.2 448.2 542.3 448.8 541.8 449.0 544.5 449.8 542.3 450.3 541.4 451.8 542.1 453.3 542.6 454.8 542.1 456.3 542.0 457.8 542.0 459.3 542.3 460.8 541.6 462.3 541.9 463.8 541.6 465.3 542.3 466.8 542.1 468.3 542.6 469.2 542.3 469.8 542.3 470.0 544.5 470.8 542.3 471.3 542.4 472.8 541.7 474.3 541.4 475.8 541.4 477.3 541.5 478.8 541.3 480.3 541.5 480.4 542.3 481.8 585.0 483.2 542.3 483.7 541.2 485.2 541.6 486.7 542.3 488.2 542.6 489.7 542.5 491.2 542.9 492.7 542.8 494.2 542.6 495.7 542.3 497.2 541.7 498.7 542.3 500.2 542.7 501.7 542.8 503.2 542.7 504.7 542.8 506.2 543.0 507.7 543.2 507.9 542.3 509.2 543.0 509.3 585.0 510.7 542.3 511.2 542.0 512.7 542.6 514.2 542.4 515.7 542.2 517.2 542.1 518.7 541.8 520.2 541.3 521.7 541.7 523.2 542.0 524.7 541.5 525.1 542.3 526.0 548.0 526.9 542.3 527.4 542.2 528.9 542.6 530.4 542.8 531.9 542.6 533.4 542.2 534.9 542.1 536.4 541.9 537.9 542.5 539.4 542.8 540.9 543.0 542.4 542.6 543.9 542.4 545.4 542.5 546.9 542.1 548.4 541.7 549.9 542.4 551.2 542.4 551.4 542.0 552.0 544.5 552.8 542.4 553.3 541.7 554.8 541.9 556.3 541.4 557.8 541.7 559.3 541.5 560.8 542.1 562.3 541.6 563.8 542.1 565.3 541.8 566.8 542.3 568.3 542.6 569.8 542.9 571.3 542.2 572.8 542.7 574.3 542.0 575.8 541.9 577.0 542.4 577.3 541.4 578.0 545.5 579.0 542.4 579.5 541.6 581.0 541.3 582.5 541.7 584.0 542.4 585.5 542.6 587.0 542.6 588.5 541.9 590.0 542.6 591.5 542.2 593.0 542.7 594.5 542.0 596.0 541.8 597.5 542.5 599.0 542.6 600.5 542.0 602.0 542.0 603.5 542.1 605.0 541.8 606.5 541.6 608.0 541.3 609.5 541.6 611.0 541.7 612.5 541.7 614.0 541.8 615.5 541.8 617.0 541.8 618.5 542.2 620.0 541.8 621.5 541.4 623.0 541.6 624.5 541.6 626.0 541.8 627.5 542.4 629.0 542.8 630.5 542.9 632.0 543.1 632.1 542.4 633.0 545.0 633.9 542.4 634.4 542.4 635.9 542.1 637.4 541.7 638.9 541.6 640.2 542.4 640.4 541.5 641.0 544.5 641.8 542.4 642.3 541.5 643.8 541.5 645.3 542.3 646.8 542.3 648.3 542.7 649.8 542.5 651.3 542.7 652.8 542.7 654.3 542.6 655.8 542.9 657.3 542.7 658.8 542.5 660.3 542.0 661.8 541.6 663.3 541.8 664.8 541.8 666.3 541.5 667.8 542.3 669.3 541.7 670.2 542.5 670.8 541.8 671.0 544.5 671.8 542.5 672.3 541.7 673.8 541.8 675.3 542.3 676.8 542.8 678.3 542.5 679.8 542.6 681.3 542.9 682.8 542.4 684.3 542.2 685.8 542.1 687.3 542.5 688.8 542.2 690.3 542.7 691.8 542.1 693.3 542.4 694.8 542.5 696.3 541.8 697.8 541.8 699.3 542.3 700.8 542.2 702.3 541.7 703.8 541.8 705.3 542.0 706.8 542.1 708.3 542.0 709.8 542.6 711.3 542.7 712.8 542.4 714.3 542.3 715.8 542.6 717.3 542.1 718.8 542.1 720.3 542.5 721.8 541.9 723.3 541.6 724.8 541.3 726.3 541.9 727.8 542.4 729.3 542.5 730.8 542.6 732.3 541.9 733.8 541.9 734.2 542.5 735.0 544.0 735.8 542.5 736.3 542.0 737.8 541.9 739.3 541.7 740.8 541.8 742.3 541.6 743.8 541.4 745.3 541.8 746.8 541.4 748.3 541.7 749.8 541.8 751.3 542.4 752.8 542.6 754.3 542.4 755.8 541.8 757.3 542.2 758.8 542.5 760.3 542.6 761.8 543.0 763.3 542.7 764.8 542.4 766.3 542.4 767.8 541.9 769.3 542.2 770.8 541.8 772.3 542.2 773.8 542.4 774.1 542.6 775.0 545.0 775.9 542.6 776.4 542.6 777.9 542.1 779.4 542.4 780.9 542.9 782.4 543.2 783.9 543.2 785.4 542.4 786.9 542.7 788.4 542.2" fill="none" stroke="#2a80c0" stroke-width="1.15" stroke-linejoin="round" opacity="1"/>
<rect x="76.3" y="689.5" width="713.9000000000001" height="51.5" fill="none" stroke="#333333" stroke-width="1.25"/>
<text x="76.30" y="768" class="tk" text-anchor="middle">4</text>
<path d="M147.69 741v-7M147.69 689.5v7" stroke="#333333" stroke-width="1.25"/>
<text x="147.69" y="768" class="tk" text-anchor="middle">4.1</text>
<path d="M219.08 741v-7M219.08 689.5v7" stroke="#333333" stroke-width="1.25"/>
<text x="219.08" y="768" class="tk" text-anchor="middle">4.2</text>
<path d="M290.47 741v-7M290.47 689.5v7" stroke="#333333" stroke-width="1.25"/>
<text x="290.47" y="768" class="tk" text-anchor="middle">4.3</text>
<path d="M361.86 741v-7M361.86 689.5v7" stroke="#333333" stroke-width="1.25"/>
<text x="361.86" y="768" class="tk" text-anchor="middle">4.4</text>
<path d="M433.25 741v-7M433.25 689.5v7" stroke="#333333" stroke-width="1.25"/>
<text x="433.25" y="768" class="tk" text-anchor="middle">4.5</text>
<path d="M504.64 741v-7M504.64 689.5v7" stroke="#333333" stroke-width="1.25"/>
<text x="504.64" y="768" class="tk" text-anchor="middle">4.6</text>
<path d="M576.03 741v-7M576.03 689.5v7" stroke="#333333" stroke-width="1.25"/>
<text x="576.03" y="768" class="tk" text-anchor="middle">4.7</text>
<path d="M647.42 741v-7M647.42 689.5v7" stroke="#333333" stroke-width="1.25"/>
<text x="647.42" y="768" class="tk" text-anchor="middle">4.8</text>
<path d="M718.81 741v-7M718.81 689.5v7" stroke="#333333" stroke-width="1.25"/>
<text x="718.81" y="768" class="tk" text-anchor="middle">4.9</text>
<text x="790.20" y="768" class="tk" text-anchor="middle">5</text>
<text x="433.25" y="797.6" class="lb" text-anchor="middle">Frequency (Hz)</text>
<text x="66.8" y="698.5" class="tk" text-anchor="end">1</text>
<text x="66.8" y="716.2" class="tk" text-anchor="end">0.5</text>
<path d="M76.3 707.8h7M790.2 707.8h-7" stroke="#333333" stroke-width="1.25"/>
<path d="M76.3 692.8h3.5M790.2 692.8h-3.5" stroke="#333333" stroke-width="1"/>
<path d="M76.3 695.8h3.5M790.2 695.8h-3.5" stroke="#333333" stroke-width="1"/>
<path d="M76.3 699.1h3.5M790.2 699.1h-3.5" stroke="#333333" stroke-width="1"/>
<path d="M76.3 703.2h3.5M790.2 703.2h-3.5" stroke="#333333" stroke-width="1"/>
<path d="M76.3 713.5h3.5M790.2 713.5h-3.5" stroke="#333333" stroke-width="1"/>
<path d="M76.3 720.9h3.5M790.2 720.9h-3.5" stroke="#333333" stroke-width="1"/>
<path d="M76.3 731.3h3.5M790.2 731.3h-3.5" stroke="#333333" stroke-width="1"/>
<text transform="translate(22 716) rotate(-90)" class="lb" text-anchor="middle" style="font-size:21px">i<tspan dy="10" style="font-size:16.5px">scale</tspan></text>
<path d="M76.8 734.0 78.0 727.8 79.3 731.0 79.8 736.1 80.8 733.6 81.8 732.6 82.8 733.1 83.8 732.3 84.8 734.4 85.8 735.3 86.8 735.5 87.8 736.8 88.8 734.2 89.8 732.4 90.8 731.8 91.8 732.6 92.8 736.2 93.8 735.5 94.8 735.9 95.8 732.4 96.8 731.5 97.8 732.7 98.8 733.8 99.8 734.5 100.8 734.7 101.8 733.3 102.8 731.5 103.8 731.4 104.8 733.9 105.8 735.6 106.8 735.5 107.8 733.0 108.8 730.9 109.8 730.0 110.8 732.6 111.8 735.3 112.8 735.6 113.8 733.5 114.8 733.1 115.8 732.6 116.8 732.9 117.8 735.1 118.8 736.6 119.8 734.6 120.8 732.3 121.8 731.6 122.8 733.2 123.8 734.3 124.8 734.0 125.8 733.3 126.8 729.7 127.8 728.8 128.8 728.6 129.8 731.6 130.8 732.4 131.8 733.0 132.8 731.5 133.8 729.9 134.8 729.6 135.8 732.2 136.8 733.1 137.8 735.3 138.8 735.3 139.8 733.0 140.8 731.8 141.8 729.2 142.8 735.4 143.8 734.1 144.8 736.3 145.8 735.1 146.8 731.1 147.8 731.5 148.8 730.3 149.8 734.5 150.8 735.2 151.8 734.3 152.8 731.9 153.8 730.4 154.8 732.1 155.8 733.4 156.8 735.1 157.8 734.7 158.8 734.2 159.8 730.4 160.8 731.6 161.8 730.8 162.8 731.8 163.8 732.9 164.8 739.8 165.8 735.5 166.8 735.6 167.8 733.6 168.8 733.7 169.8 731.0 170.8 731.4 171.8 732.8 172.8 733.4 173.8 735.4 174.8 734.4 175.8 734.9 176.8 734.4 177.8 738.6 178.8 732.1 179.8 736.5 180.8 731.9 181.8 737.6 182.8 733.0 183.8 740.7 184.8 737.0 185.8 736.8 186.8 736.7 187.8 735.7 188.8 731.6 189.8 729.8 190.8 728.9 191.8 730.1 192.8 731.5 193.8 734.7 194.8 734.0 195.8 734.8 196.8 735.2 197.8 734.7 198.8 737.9 199.8 732.5 200.8 733.0 201.8 731.7 202.8 732.4 203.8 730.8 204.8 731.3 205.8 732.9 206.8 736.2 207.8 732.9 208.8 734.5 209.8 740.6 210.8 735.2 211.8 734.9 212.8 735.3 213.8 736.4 214.8 736.1 215.8 735.7 216.8 734.4 217.8 731.4 218.8 732.9 219.8 731.2 220.8 729.7 221.8 731.4 222.8 731.0 223.8 733.2 224.8 732.7 225.8 733.3 226.8 734.2 227.8 733.5 228.8 735.6 229.8 736.0 230.8 735.4 231.8 735.6 232.8 735.5 233.8 734.5 234.8 734.0 235.8 732.8 236.8 736.9 237.8 731.1 238.8 731.5 239.8 731.7 240.8 732.7 241.8 735.7 242.8 733.5 243.8 733.7 244.8 735.4 245.8 735.3 246.8 736.3 247.8 739.6 248.8 734.4 249.8 734.1 250.8 732.9 251.8 732.4 252.8 730.2 253.8 729.5 254.8 729.1 255.8 729.6 256.8 730.4 257.8 731.8 258.8 732.7 259.8 731.0 260.8 732.7 261.8 732.8 262.8 734.2 263.8 739.0 264.8 735.4 265.8 732.5 266.8 733.5 267.8 731.2 268.8 731.4 269.8 731.5 270.8 732.4 271.8 733.8 272.8 734.9 273.8 734.8 274.8 733.5 275.8 730.7 276.8 730.2 277.8 729.7 278.8 732.1 279.8 735.5 280.8 734.7 281.8 731.2 282.8 730.8 283.8 732.5 284.8 734.8 285.8 735.0 286.8 735.5 287.8 732.7 288.8 730.6 289.8 730.2 290.8 730.8 291.8 732.7 292.8 737.6 293.8 733.7 294.8 732.5 295.8 731.0 296.8 731.6 297.8 732.5 298.8 735.0 299.8 735.3 300.8 733.1 301.8 738.7 302.8 732.9 303.8 733.8 304.8 736.0 305.8 733.4 306.8 732.7 307.8 731.0 308.8 731.5 309.8 733.0 310.8 735.2 311.8 734.1 312.8 733.4 313.8 732.3 314.8 732.4 315.8 734.1 316.8 735.5 317.8 734.0 318.8 731.7 319.8 729.2 320.8 731.2 321.8 732.1 322.8 734.4 323.8 735.6 324.8 735.5 325.8 739.7 326.8 731.0 327.8 730.0 328.8 731.7 329.8 734.4 330.8 734.0 331.8 731.7 332.8 729.7 333.8 730.0 334.8 733.1 335.8 735.6 336.8 736.2 337.8 733.7 338.8 731.3 339.8 729.1 340.8 732.6 341.8 733.1 342.8 733.6 343.8 732.0 344.8 731.9 345.8 731.7 346.8 734.0 347.8 735.4 348.8 735.3 349.8 732.6 350.8 731.3 351.8 732.0 352.8 733.2 353.8 735.1 354.8 735.6 355.8 735.4 356.8 734.5 357.8 733.1 358.8 733.4 359.8 730.4 360.8 730.9 361.8 738.1 362.8 733.7 363.8 733.7 364.8 734.9 365.8 735.8 366.8 734.3 367.8 734.7 368.8 732.6 369.8 733.0 370.8 731.8 371.8 731.2 372.8 731.1 373.8 731.9 374.8 730.9 375.8 731.9 376.8 732.5 377.8 739.0 378.8 735.8 379.8 735.7 380.8 736.7 381.8 736.7 382.8 735.0 383.8 734.6 384.8 734.1 385.8 733.5 386.8 731.1 387.8 730.6 388.8 731.9 389.8 730.7 390.8 730.9 391.8 731.6 392.8 734.5 393.8 735.4 394.8 735.3 395.8 736.1 396.8 736.5 397.8 735.0 398.8 736.0 399.8 735.5 400.8 735.0 401.8 732.5 402.8 734.1 403.8 732.6 404.8 731.7 405.8 732.0 406.8 731.9 407.8 731.2 408.8 732.7 409.8 732.9 410.8 735.0 411.8 740.4 412.8 735.8 413.8 734.7 414.8 731.9 415.8 731.7 416.8 730.8 417.8 735.5 418.8 731.3 419.8 734.8 420.8 736.3 421.8 736.8 422.8 735.1 423.8 733.5 424.8 731.3 425.8 730.8 426.8 732.8 427.8 735.6 428.8 736.8 429.8 735.3 430.8 733.1 431.8 730.8 432.8 729.7 433.8 730.3 434.8 732.4 435.8 735.3 436.8 739.4 437.8 730.9 438.8 731.3 439.8 732.7 440.8 734.1 441.8 736.5 442.8 734.9 443.8 733.3 444.8 731.9 445.8 731.4 446.8 732.9 447.8 733.7 448.8 734.5 449.8 731.9 450.8 732.2 451.8 729.4 452.8 730.5 453.8 731.5 454.8 734.5 455.8 735.4 456.8 739.1 457.8 731.4 458.8 730.8 459.8 730.2 460.8 731.8 461.8 732.6 462.8 734.7 463.8 734.3 464.8 734.7 465.8 733.3 466.8 731.4 467.8 732.2 468.8 734.7 469.8 734.4 470.8 736.6 471.8 734.8 472.8 732.8 473.8 732.7 474.8 732.1 475.8 735.4 476.8 734.6 477.8 738.8 478.8 733.2 479.8 730.9 480.8 732.2 481.8 734.5 482.8 734.6 483.8 734.6 484.8 734.4 485.8 734.0 486.8 730.7 487.8 733.7 488.8 735.0 489.8 734.4 490.8 731.4 491.8 729.2 492.8 729.1 493.8 736.2 494.8 738.3 495.8 735.7 496.8 735.0 497.8 732.6 498.8 731.6 499.8 730.7 500.8 738.3 501.8 731.9 502.8 735.9 503.8 736.4 504.8 734.8 505.8 734.2 506.8 731.6 507.8 731.4 508.8 732.8 509.8 734.1 510.8 734.3 511.8 732.1 512.8 730.5 513.8 730.9 514.8 732.9 515.8 735.3 516.8 734.5 517.8 732.2 518.8 729.3 519.8 732.0 520.8 734.8 521.8 736.6 522.8 736.4 523.8 734.2 524.8 732.6 525.8 732.3 526.8 735.8 527.8 736.8 528.8 736.8 529.8 736.9 530.8 735.8 531.8 734.6 532.8 735.0 533.8 735.6 534.8 736.9 535.8 735.6 536.8 732.8 537.8 730.5 538.8 731.5 539.8 733.8 540.8 734.3 541.8 734.5 542.8 732.4 543.8 730.7 544.8 737.2 545.8 733.2 546.8 736.2 547.8 735.7 548.8 736.0 549.8 733.3 550.8 732.5 551.8 732.6 552.8 733.1 553.8 734.4 554.8 735.1 555.8 735.7 556.8 733.9 557.8 730.7 558.8 732.2 559.8 734.3 560.8 735.4 561.8 735.4 562.8 734.2 563.8 731.8 564.8 729.8 565.8 731.2 566.8 734.3 567.8 735.1 568.8 734.0 569.8 733.6 570.8 731.3 571.8 731.2 572.8 733.0 573.8 735.3 574.8 737.2 575.8 733.4 576.8 730.7 577.8 731.7 578.8 733.2 579.8 733.2 580.8 735.0 581.8 734.2 582.8 732.2 583.8 731.6 584.8 730.2 585.8 729.7 586.8 730.8 587.8 732.5 588.8 732.7 589.8 734.9 590.8 740.9 591.8 734.5 592.8 734.8 593.8 734.2 594.8 733.9 595.8 734.4 596.8 732.2 597.8 731.8 598.8 730.6 599.8 731.1 600.8 731.7 601.8 733.0 602.8 732.9 603.8 734.3 604.8 735.5 605.8 735.4 606.8 735.9 607.8 736.8 608.8 735.0 609.8 734.6 610.8 732.6 611.8 732.5 612.8 736.4 613.8 730.5 614.8 729.2 615.8 729.4 616.8 730.7 617.8 730.5 618.8 731.8 619.8 732.2 620.8 733.5 621.8 734.3 622.8 740.3 623.8 735.1 624.8 738.8 625.8 734.8 626.8 733.5 627.8 731.4 628.8 731.6 629.8 730.9 630.8 730.9 631.8 731.5 632.8 735.0 633.8 735.5 634.8 737.0 635.8 733.8 636.8 732.6 637.8 731.7 638.8 733.4 639.8 734.7 640.8 736.3 641.8 735.5 642.8 733.0 643.8 733.5 644.8 734.9 645.8 735.9 646.8 737.3 647.8 733.7 648.8 733.2 649.8 731.4 650.8 736.4 651.8 734.8 652.8 735.5 653.8 734.5 654.8 732.2 655.8 730.0 656.8 728.5 657.8 732.4 658.8 735.1 659.8 737.0 660.8 735.8 661.8 733.8 662.8 733.0 663.8 731.4 664.8 735.3 665.8 735.6 666.8 737.5 667.8 731.8 668.8 732.4 669.8 738.4 670.8 733.7 671.8 735.9 672.8 735.0 673.8 733.3 674.8 732.0 675.8 731.6 676.8 734.8 677.8 736.4 678.8 735.4 679.8 734.6 680.8 732.2 681.8 732.9 682.8 732.8 683.8 734.6 684.8 734.5 685.8 735.5 686.8 734.4 687.8 732.4 688.8 729.8 689.8 731.2 690.8 732.8 691.8 735.5 692.8 735.0 693.8 731.7 694.8 731.8 695.8 729.2 696.8 732.8 697.8 734.1 698.8 734.9 699.8 733.4 700.8 729.9 701.8 731.0 702.8 732.7 703.8 737.9 704.8 733.4 705.8 733.0 706.8 730.5 707.8 731.0 708.8 730.3 709.8 731.0 710.8 731.2 711.8 732.6 712.8 733.1 713.8 732.6 714.8 734.0 715.8 738.6 716.8 732.8 717.8 733.1 718.8 731.5 719.8 731.1 720.8 731.3 721.8 731.8 722.8 732.0 723.8 733.5 724.8 732.8 725.8 735.8 726.8 732.6 727.8 733.8 728.8 735.6 729.8 733.8 730.8 734.7 731.8 734.5 732.8 733.5 733.8 740.0 734.8 732.9 735.8 733.1 736.8 731.2 737.8 731.8 738.8 730.1 739.8 730.0 740.8 732.5 741.8 731.3 742.8 731.4 743.8 738.8 744.8 734.2 745.8 733.7 746.8 733.8 747.8 734.6 748.8 732.9 749.8 732.8 750.8 732.7 751.8 730.8 752.8 731.6 753.8 735.2 754.8 736.5 755.8 735.3 756.8 732.7 757.8 732.0 758.8 732.2 759.8 734.7 760.8 735.3 761.8 735.7 762.8 733.2 763.8 731.3 764.8 731.6 765.8 734.1 766.8 735.7 767.8 734.8 768.8 733.0 769.8 730.0 770.8 732.5 771.8 735.9 772.8 735.3 773.8 734.3 774.8 730.9 775.8 731.5 776.8 733.3 777.8 734.5 778.8 734.9 779.8 732.3 780.8 730.5 781.8 731.1 782.8 731.6 783.8 733.7 784.8 735.2 785.8 734.6 786.8 733.0 787.8 731.8 788.8 732.0 789.8 731.9" fill="none" stroke="#1f78bd" stroke-width="1.3" stroke-linejoin="round" opacity="1"/>
<path d="M84.5 237.8 85.1 260.0 85.5 260.0 86.1 237.8" fill="none" stroke="#1f78bd" stroke-width="1.5" stroke-linejoin="round" opacity="1"/>
<path d="M508.8 234.0 509.6 273.5 510.0 273.5 510.8 234.0" fill="none" stroke="#1f78bd" stroke-width="1.5" stroke-linejoin="round" opacity="1"/>
<path d="M770.5 233.5 771.3 267.5 771.7 267.5 772.5 233.5" fill="none" stroke="#1f78bd" stroke-width="1.5" stroke-linejoin="round" opacity="1"/>
<path d="M240.4 387.9 241.1 425.5 241.5 425.5 242.2 387.9" fill="none" stroke="#1f78bd" stroke-width="1.5" stroke-linejoin="round" opacity="1"/>
<path d="M342.9 387.9 343.6 422.5 344.0 422.5 344.7 387.9" fill="none" stroke="#1f78bd" stroke-width="1.5" stroke-linejoin="round" opacity="1"/>
<path d="M476.5 387.5 477.1 421.0 477.5 421.0 478.1 387.5" fill="none" stroke="#1f78bd" stroke-width="1.5" stroke-linejoin="round" opacity="1"/>
<path d="M581.3 387.2 582.1 430.0 582.5 430.0 583.3 387.2" fill="none" stroke="#1f78bd" stroke-width="1.5" stroke-linejoin="round" opacity="1"/>
<path d="M742.0 387.0 742.8 430.0 743.2 430.0 744.0 387.0" fill="none" stroke="#1f78bd" stroke-width="1.5" stroke-linejoin="round" opacity="1"/>
<path d="M480.7 543.0 481.6 585.0 482.0 585.0 482.9 543.0" fill="none" stroke="#1f78bd" stroke-width="1.5" stroke-linejoin="round" opacity="1"/>
<path d="M508.2 543.0 509.1 585.0 509.5 585.0 510.4 543.0" fill="none" stroke="#1f78bd" stroke-width="1.5" stroke-linejoin="round" opacity="1"/>
<rect x="949.8" y="60.75" width="722.4000000000001" height="50.25" fill="none" stroke="#333333" stroke-width="1.25"/>
<text x="949.80" y="139" class="tk" text-anchor="middle">5</text>
<path d="M1022.04 111v-7M1022.04 60.75v7" stroke="#333333" stroke-width="1.25"/>
<text x="1022.04" y="139" class="tk" text-anchor="middle">5.5</text>
<path d="M1094.28 111v-7M1094.28 60.75v7" stroke="#333333" stroke-width="1.25"/>
<text x="1094.28" y="139" class="tk" text-anchor="middle">6</text>
<path d="M1166.52 111v-7M1166.52 60.75v7" stroke="#333333" stroke-width="1.25"/>
<text x="1166.52" y="139" class="tk" text-anchor="middle">6.5</text>
<path d="M1238.76 111v-7M1238.76 60.75v7" stroke="#333333" stroke-width="1.25"/>
<text x="1238.76" y="139" class="tk" text-anchor="middle">7</text>
<path d="M1311.00 111v-7M1311.00 60.75v7" stroke="#333333" stroke-width="1.25"/>
<text x="1311.00" y="139" class="tk" text-anchor="middle">7.5</text>
<path d="M1383.24 111v-7M1383.24 60.75v7" stroke="#333333" stroke-width="1.25"/>
<text x="1383.24" y="139" class="tk" text-anchor="middle">8</text>
<path d="M1455.48 111v-7M1455.48 60.75v7" stroke="#333333" stroke-width="1.25"/>
<text x="1455.48" y="139" class="tk" text-anchor="middle">8.5</text>
<path d="M1527.72 111v-7M1527.72 60.75v7" stroke="#333333" stroke-width="1.25"/>
<text x="1527.72" y="139" class="tk" text-anchor="middle">9</text>
<path d="M1599.96 111v-7M1599.96 60.75v7" stroke="#333333" stroke-width="1.25"/>
<text x="1599.96" y="139" class="tk" text-anchor="middle">9.5</text>
<text x="1672.20" y="139" class="tk" text-anchor="middle">10</text>
<text x="1311.00" y="168.2" class="lb" text-anchor="middle">Time (minute)</text>
<text x="940.3" y="68.2" class="tk" text-anchor="end">0.01</text>
<text x="940.3" y="93.5" class="tk" text-anchor="end">0</text>
<text x="940.3" y="120.3" class="tk" text-anchor="end">-0.01</text>
<text transform="translate(880.7 87) rotate(-90)" class="lb" text-anchor="middle" style="font-size:21px">Input<tspan dy="10" style="font-size:16.5px">seismic</tspan></text>
<text x="1310" y="17" class="tt" text-anchor="middle">After 5 minute of the Duzce earthquake</text>
<text x="1310" y="50" class="tt" text-anchor="middle">The seismic signal rescaled by 10<tspan dy="-9" style="font-size:15px">-9</tspan></text>
<text x="1690" y="47" class="tt">(a)</text>
<text x="943" y="197.5" class="tt">The wavelet scale index spectrum of the Duffing oscillator for input<tspan dy="9.5" style="font-size:17px">seismic</tspan></text>
<text x="1695" y="196" class="tt">(b)</text>
<path d="M950.3 86.5 1671.7 86.5" fill="none" stroke="#3b86b4" stroke-width="1.0" stroke-linejoin="round" opacity="1"/>
<path d="M969.0 86.5 970.0 86.7 971.0 86.2 971.9 86.8 973.0 86.1 974.0 86.9 974.9 86.1 975.9 91.5 977.0 75.2 978.0 96.8 978.8 74.5 979.7 96.2 980.9 76.4 982.2 98.2 983.3 74.9 984.1 98.5 985.0 76.2 985.8 94.9 986.8 78.4 987.7 98.9 988.9 76.8 989.8 95.5 990.5 78.4 991.6 96.0 992.4 77.9 993.3 94.4 994.1 78.9 994.9 94.9 996.0 78.6 997.0 95.4 997.9 80.5 998.8 94.7 999.7 79.0 1000.9 93.9 1001.9 80.5 1003.1 93.1 1004.2 81.7 1005.3 92.8 1006.1 81.8 1007.3 92.0 1008.3 81.3 1009.1 91.1 1009.9 81.6 1010.8 92.7 1012.0 81.1 1012.8 92.0 1013.6 81.4 1014.4 92.1 1015.2 81.4 1016.1 90.5 1017.3 83.7 1018.9 89.1 1020.3 84.9 1021.4 88.1 1022.8 84.7 1024.6 88.1 1025.7 84.6 1027.1 87.9 1028.4 84.9 1030.1 88.3 1031.8 84.9 1033.5 88.0 1034.8 85.3 1036.4 88.0 1037.9 84.8 1039.4 87.7 1041.0 84.9 1042.1 88.1 1043.5 85.5 1044.9 87.9 1046.3 85.5 1047.9 87.4 1049.4 85.5 1050.9 87.6 1052.1 85.6 1053.8 87.5 1055.0 85.4 1056.6 87.3 1058.0 85.7 1059.6 87.2 1061.3 85.6 1062.7 87.4 1063.9 85.7 1065.0 87.3 1066.5 85.7 1067.8 87.3 1069.4 85.7 1070.4 87.2 1071.5 85.9 1073.0 86.8 1074.5 86.1 1075.0 86.5" fill="none" stroke="#1274c0" stroke-width="1.4" stroke-linejoin="round" opacity="1"/>
<rect x="949.8" y="216.75" width="722.4000000000001" height="50.25" fill="none" stroke="#333333" stroke-width="1.25"/>
<text x="949.80" y="294" class="tk" text-anchor="middle">0.8</text>
<path d="M1070.20 267v-7M1070.20 216.75v7" stroke="#333333" stroke-width="1.25"/>
<text x="1070.20" y="294" class="tk" text-anchor="middle">1</text>
<path d="M1190.60 267v-7M1190.60 216.75v7" stroke="#333333" stroke-width="1.25"/>
<text x="1190.60" y="294" class="tk" text-anchor="middle">1.2</text>
<path d="M1311.00 267v-7M1311.00 216.75v7" stroke="#333333" stroke-width="1.25"/>
<text x="1311.00" y="294" class="tk" text-anchor="middle">1.4</text>
<path d="M1431.40 267v-7M1431.40 216.75v7" stroke="#333333" stroke-width="1.25"/>
<text x="1431.40" y="294" class="tk" text-anchor="middle">1.6</text>
<path d="M1551.80 267v-7M1551.80 216.75v7" stroke="#333333" stroke-width="1.25"/>
<text x="1551.80" y="294" class="tk" text-anchor="middle">1.8</text>
<text x="1672.20" y="294" class="tk" text-anchor="middle">2</text>
<text x="1311.00" y="323.6" class="lb" text-anchor="middle">Frequency (Hz)</text>
<text x="940.3" y="227" class="tk" text-anchor="end">10<tspan dy="-8.5" style="font-size:14px">0</tspan></text>
<text x="940.3" y="253" class="tk" text-anchor="end">10<tspan dy="-8.5" style="font-size:14px">-2</tspan></text>
<path d="M949.8 241.8h7M1672.2 241.8h-7" stroke="#333333" stroke-width="1.25"/>
<path d="M949.8 217.3h3.5M1672.2 217.3h-3.5" stroke="#333333" stroke-width="1"/>
<path d="M949.8 218.0h3.5M1672.2 218.0h-3.5" stroke="#333333" stroke-width="1"/>
<path d="M949.8 218.7h3.5M1672.2 218.7h-3.5" stroke="#333333" stroke-width="1"/>
<path d="M949.8 219.5h3.5M1672.2 219.5h-3.5" stroke="#333333" stroke-width="1"/>
<path d="M949.8 220.5h3.5M1672.2 220.5h-3.5" stroke="#333333" stroke-width="1"/>
<path d="M949.8 221.7h3.5M1672.2 221.7h-3.5" stroke="#333333" stroke-width="1"/>
<path d="M949.8 223.3h3.5M1672.2 223.3h-3.5" stroke="#333333" stroke-width="1"/>
<path d="M949.8 225.5h3.5M1672.2 225.5h-3.5" stroke="#333333" stroke-width="1"/>
<path d="M949.8 229.2h3.5M1672.2 229.2h-3.5" stroke="#333333" stroke-width="1"/>
<path d="M949.8 229.8h3.5M1672.2 229.8h-3.5" stroke="#333333" stroke-width="1"/>
<path d="M949.8 230.5h3.5M1672.2 230.5h-3.5" stroke="#333333" stroke-width="1"/>
<path d="M949.8 231.2h3.5M1672.2 231.2h-3.5" stroke="#333333" stroke-width="1"/>
<path d="M949.8 232.0h3.5M1672.2 232.0h-3.5" stroke="#333333" stroke-width="1"/>
<path d="M949.8 233.0h3.5M1672.2 233.0h-3.5" stroke="#333333" stroke-width="1"/>
<path d="M949.8 234.2h3.5M1672.2 234.2h-3.5" stroke="#333333" stroke-width="1"/>
<path d="M949.8 235.8h3.5M1672.2 235.8h-3.5" stroke="#333333" stroke-width="1"/>
<path d="M949.8 238.0h3.5M1672.2 238.0h-3.5" stroke="#333333" stroke-width="1"/>
<path d="M949.8 241.8h3.5M1672.2 241.8h-3.5" stroke="#333333" stroke-width="1"/>
<path d="M949.8 242.3h3.5M1672.2 242.3h-3.5" stroke="#333333" stroke-width="1"/>
<path d="M949.8 243.0h3.5M1672.2 243.0h-3.5" stroke="#333333" stroke-width="1"/>
<path d="M949.8 243.7h3.5M1672.2 243.7h-3.5" stroke="#333333" stroke-width="1"/>
<path d="M949.8 244.5h3.5M1672.2 244.5h-3.5" stroke="#333333" stroke-width="1"/>
<path d="M949.8 245.5h3.5M1672.2 245.5h-3.5" stroke="#333333" stroke-width="1"/>
<path d="M949.8 246.7h3.5M1672.2 246.7h-3.5" stroke="#333333" stroke-width="1"/>
<path d="M949.8 248.3h3.5M1672.2 248.3h-3.5" stroke="#333333" stroke-width="1"/>
<path d="M949.8 250.5h3.5M1672.2 250.5h-3.5" stroke="#333333" stroke-width="1"/>
<path d="M949.8 254.2h3.5M1672.2 254.2h-3.5" stroke="#333333" stroke-width="1"/>
<path d="M949.8 254.8h3.5M1672.2 254.8h-3.5" stroke="#333333" stroke-width="1"/>
<path d="M949.8 255.5h3.5M1672.2 255.5h-3.5" stroke="#333333" stroke-width="1"/>
<path d="M949.8 256.2h3.5M1672.2 256.2h-3.5" stroke="#333333" stroke-width="1"/>
<path d="M949.8 257.0h3.5M1672.2 257.0h-3.5" stroke="#333333" stroke-width="1"/>
<path d="M949.8 258.0h3.5M1672.2 258.0h-3.5" stroke="#333333" stroke-width="1"/>
<path d="M949.8 259.2h3.5M1672.2 259.2h-3.5" stroke="#333333" stroke-width="1"/>
<path d="M949.8 260.8h3.5M1672.2 260.8h-3.5" stroke="#333333" stroke-width="1"/>
<path d="M949.8 263.0h3.5M1672.2 263.0h-3.5" stroke="#333333" stroke-width="1"/>
<text transform="translate(887 241) rotate(-90)" class="lb" text-anchor="middle" style="font-size:21px">i<tspan dy="10" style="font-size:16.5px">scale</tspan></text>
<path d="M951.9 260.2 957.5 258.3 960.0 249.6 961.3 229.5 963.2 227.0 964.4 229.5 965.7 258.3 968.2 262.7 970.0 262.1 971.3 237.0 973.8 224.5 978.8 223.5 990.1 223.3 992.0 224.5 993.2 260.8 995.1 262.1 998.2 261.5 1000.1 237.0 1001.6 228.9 1002.6 259.6 1004.5 261.8 1007.0 260.8 1008.9 237.0 1010.7 225.8 1013.2 225.1 1015.1 232.0 1016.6 249.6 1017.6 230.8 1020.1 223.9 1025.1 222.3 1031.4 223.0 1033.3 225.8 1034.5 237.0 1035.8 259.6 1037.0 243.3 1038.3 227.0 1039.5 237.0 1041.4 258.3 1045.2 260.8 1046.4 243.3 1048.3 228.3 1052.7 224.5 1057.7 223.3 1061.5 224.5 1063.3 237.0 1064.6 259.6 1066.5 262.7 1067.7 237.0 1069.0 229.5 1071.5 227.0 1074.0 228.3 1075.9 233.3 1077.1 228.3 1078.4 227.0 1079.6 237.0 1080.5 260.2 1081.5 237.0 1082.1 224.5 1086.5 223.3 1097.8 223.0 1100.9 224.5 1103.4 230.8 1105.9 232.0 1107.5 249.6 1108.4 233.3 1111.5 228.3 1113.4 225.8 1117.2 228.9 1119.7 223.9 1125.3 223.3 1137.8 223.5 1141.0 224.5 1142.8 243.3 1144.1 259.6 1147.9 262.7 1150.4 261.5 1152.2 237.0 1154.7 230.8 1155.0 232.0 1156.9 224.5 1160.0 223.6 1164.4 223.9 1165.6 225.8 1166.5 249.6 1167.1 263.3 1168.1 237.0 1169.0 229.5 1169.8 243.3 1171.0 260.8 1173.8 259.6 1176.3 259.0 1177.5 237.0 1178.8 225.1 1182.5 223.9 1188.8 223.9 1191.3 225.1 1192.6 237.0 1193.8 258.3 1196.3 260.2 1197.6 243.3 1198.8 229.5 1200.1 243.3 1201.6 262.7 1202.8 249.6 1204.1 229.5 1206.3 225.1 1211.3 223.5 1214.5 224.5 1216.1 237.0 1217.4 258.3 1218.6 259.6 1220.1 243.3 1222.0 228.3 1223.9 227.7 1225.4 230.8 1227.6 224.5 1233.9 223.5 1237.6 224.5 1239.5 237.0 1241.1 260.8 1242.4 262.1 1243.9 249.6 1245.4 233.3 1247.0 230.8 1250.2 224.5 1253.9 223.5 1257.1 225.8 1259.6 230.8 1261.4 232.0 1262.9 249.6 1263.9 260.2 1265.2 258.3 1266.4 233.3 1267.7 234.5 1268.7 258.3 1269.6 237.0 1270.8 225.8 1273.3 223.9 1275.8 224.5 1277.7 237.0 1279.2 259.6 1281.5 260.8 1284.0 259.6 1285.2 237.0 1286.5 225.1 1289.6 223.9 1292.7 224.5 1296.5 222.6 1301.5 223.9 1304.0 225.8 1305.3 243.3 1306.5 262.1 1309.6 263.3 1311.5 249.6 1313.0 228.3 1315.9 227.0 1317.8 224.5 1321.5 223.5 1335.3 223.5 1347.8 223.5 1350.1 225.1 1351.8 237.0 1353.5 258.3 1354.7 237.0 1356.0 255.8 1357.9 261.5 1362.9 262.7 1364.1 243.3 1364.7 232.0 1365.0 223.9 1371.3 223.6 1382.5 223.6 1384.0 224.5 1385.0 249.6 1386.0 260.8 1387.3 243.3 1388.5 228.3 1389.8 243.3 1391.0 260.2 1394.4 260.8 1395.7 243.3 1396.9 227.0 1398.6 225.8 1400.1 237.0 1401.6 260.2 1402.6 243.3 1404.1 227.0 1406.9 226.4 1408.6 243.3 1410.1 262.1 1411.3 243.3 1413.2 228.3 1416.3 224.5 1421.3 224.3 1423.9 228.3 1425.7 243.3 1427.0 262.7 1428.2 237.0 1429.5 224.5 1432.0 223.9 1435.1 227.0 1437.6 237.0 1439.5 260.8 1441.4 263.3 1443.3 261.5 1445.1 237.0 1447.0 225.1 1451.4 223.9 1460.2 223.9 1465.2 225.1 1468.9 224.5 1471.2 228.3 1472.4 249.6 1473.9 260.2 1475.4 243.3 1477.1 230.8 1478.3 243.3 1480.2 264.6 1482.1 243.3 1484.0 225.8 1487.7 223.9 1495.2 223.9 1499.0 225.8 1500.9 243.3 1502.5 260.2 1504.0 243.3 1505.9 228.3 1507.1 243.3 1508.4 259.0 1510.3 243.3 1512.8 227.0 1516.5 223.9 1520.9 224.5 1523.4 237.0 1525.3 258.3 1526.8 263.3 1527.8 249.6 1528.8 242.1 1530.0 255.8 1531.3 263.3 1532.8 249.6 1534.0 228.3 1537.2 225.1 1544.1 223.6 1550.3 223.9 1552.6 228.3 1552.8 228.3 1554.3 249.6 1555.6 265.2 1557.8 265.2 1559.1 243.3 1560.3 226.4 1563.5 225.1 1565.3 237.0 1567.2 263.3 1568.1 243.3 1569.1 230.8 1570.1 243.3 1571.4 265.2 1574.1 265.2 1575.4 243.3 1576.6 225.8 1579.1 223.9 1585.4 223.9 1587.9 225.8 1590.4 230.8 1594.1 233.9 1596.7 233.3 1598.2 243.3 1599.2 262.1 1601.7 264.0 1602.9 243.3 1604.8 225.1 1609.2 223.9 1611.7 225.8 1613.2 243.3 1613.9 260.2 1614.8 243.3 1616.4 228.3 1619.2 224.5 1623.6 224.5 1625.5 228.3 1627.0 243.3 1628.0 262.1 1629.0 243.3 1629.8 234.5 1630.7 249.6 1631.7 264.6 1633.0 249.6 1634.2 230.8 1636.7 225.1 1641.7 224.5 1644.9 228.3 1646.5 243.3 1648.0 263.3 1651.7 264.0 1653.0 243.3 1654.9 225.8 1658.0 223.9 1665.5 223.5 1671.2 224.5" fill="none" stroke="#2a80c0" stroke-width="1.2" stroke-linejoin="round" opacity="1"/>
<rect x="949.8" y="371" width="722.4000000000001" height="51.39999999999998" fill="none" stroke="#333333" stroke-width="1.25"/>
<text x="949.80" y="450" class="tk" text-anchor="middle">2</text>
<path d="M1022.04 422.4v-7M1022.04 371v7" stroke="#333333" stroke-width="1.25"/>
<text x="1022.04" y="450" class="tk" text-anchor="middle">2.1</text>
<path d="M1094.28 422.4v-7M1094.28 371v7" stroke="#333333" stroke-width="1.25"/>
<text x="1094.28" y="450" class="tk" text-anchor="middle">2.2</text>
<path d="M1166.52 422.4v-7M1166.52 371v7" stroke="#333333" stroke-width="1.25"/>
<text x="1166.52" y="450" class="tk" text-anchor="middle">2.3</text>
<path d="M1238.76 422.4v-7M1238.76 371v7" stroke="#333333" stroke-width="1.25"/>
<text x="1238.76" y="450" class="tk" text-anchor="middle">2.4</text>
<path d="M1311.00 422.4v-7M1311.00 371v7" stroke="#333333" stroke-width="1.25"/>
<text x="1311.00" y="450" class="tk" text-anchor="middle">2.5</text>
<path d="M1383.24 422.4v-7M1383.24 371v7" stroke="#333333" stroke-width="1.25"/>
<text x="1383.24" y="450" class="tk" text-anchor="middle">2.6</text>
<path d="M1455.48 422.4v-7M1455.48 371v7" stroke="#333333" stroke-width="1.25"/>
<text x="1455.48" y="450" class="tk" text-anchor="middle">2.7</text>
<path d="M1527.72 422.4v-7M1527.72 371v7" stroke="#333333" stroke-width="1.25"/>
<text x="1527.72" y="450" class="tk" text-anchor="middle">2.8</text>
<path d="M1599.96 422.4v-7M1599.96 371v7" stroke="#333333" stroke-width="1.25"/>
<text x="1599.96" y="450" class="tk" text-anchor="middle">2.9</text>
<text x="1672.20" y="450" class="tk" text-anchor="middle">3</text>
<text x="1311.00" y="479.6" class="lb" text-anchor="middle">Frequency (Hz)</text>
<text x="940.3" y="381.3" class="tk" text-anchor="end">10<tspan dy="-8.5" style="font-size:14px">0</tspan></text>
<path d="M949.8 382h3.5M1672.2 382h-3.5" stroke="#333333" stroke-width="1"/>
<path d="M949.8 396h3.5M1672.2 396h-3.5" stroke="#333333" stroke-width="1"/>
<path d="M949.8 410h3.5M1672.2 410h-3.5" stroke="#333333" stroke-width="1"/>
<path d="M949.8 420.5h3.5M1672.2 420.5h-3.5" stroke="#333333" stroke-width="1"/>
<text transform="translate(890.7 398.5) rotate(-90)" class="lb" text-anchor="middle" style="font-size:21px">i<tspan dy="10" style="font-size:16.5px">scale</tspan></text>
<path d="M950.6 397.3 951.9 418.6 953.8 419.2 955.0 397.3 956.3 383.5 958.8 380.4 962.5 379.8 964.4 384.8 965.7 416.1 966.9 397.3 968.2 388.5 969.4 397.3 970.7 417.3 971.9 391.0 973.2 379.1 976.3 377.9 987.6 377.9 990.7 379.1 993.2 384.8 995.1 392.3 997.0 384.8 998.2 386.0 999.8 403.6 1001.1 417.3 1002.3 397.3 1003.9 381.0 1007.0 378.5 1013.2 378.5 1015.4 382.3 1017.0 403.6 1018.9 414.2 1020.8 391.0 1023.3 380.4 1025.8 379.1 1028.3 383.5 1031.1 394.2 1033.3 388.5 1036.4 379.1 1040.2 377.9 1057.7 377.9 1059.6 382.3 1061.2 396.1 1062.7 384.8 1064.6 382.9 1067.1 391.0 1068.3 394.2 1070.2 391.0 1072.7 384.8 1074.6 384.2 1077.1 388.5 1079.0 382.3 1082.7 377.9 1084.6 377.9 1087.1 379.1 1090.3 377.9 1097.8 377.9 1100.3 379.8 1101.5 382.9 1104.7 383.5 1106.5 387.3 1107.8 403.6 1108.8 417.3 1110.0 397.3 1111.3 389.8 1112.8 397.3 1114.0 414.2 1115.9 416.1 1119.7 416.1 1120.9 397.3 1122.2 379.8 1125.3 377.9 1132.8 377.9 1154.1 377.9 1155.0 378.5 1156.3 384.8 1157.5 414.8 1159.4 416.7 1161.9 416.7 1162.8 409.8 1163.5 401.1 1164.4 416.1 1165.6 421.1 1166.9 418.6 1169.4 417.3 1170.7 391.0 1172.5 379.8 1175.7 377.9 1180.0 377.3 1185.1 378.5 1192.6 377.9 1194.4 379.8 1195.7 403.6 1196.6 416.7 1198.2 403.6 1199.8 389.2 1201.1 403.6 1202.3 417.3 1204.5 419.2 1207.0 419.2 1208.2 397.3 1210.1 381.0 1213.2 377.9 1217.6 377.9 1225.1 378.5 1227.0 381.0 1228.3 409.8 1229.1 418.0 1231.4 418.0 1232.6 397.3 1233.9 386.0 1236.4 383.5 1238.3 378.5 1242.7 377.9 1255.2 377.9 1258.9 378.5 1260.4 391.0 1261.4 416.1 1262.9 416.7 1264.2 397.3 1265.8 389.2 1267.1 397.3 1268.3 416.7 1270.8 416.7 1272.1 397.3 1273.7 381.0 1276.5 378.5 1280.2 378.5 1282.1 382.3 1283.7 403.6 1285.0 414.8 1286.2 397.3 1287.7 379.8 1290.9 377.9 1302.8 377.9 1310.9 377.9 1312.8 381.0 1314.7 403.6 1315.9 416.7 1317.5 403.6 1319.0 394.8 1320.0 409.8 1320.9 417.3 1322.5 416.1 1323.8 397.3 1325.9 381.0 1329.7 377.9 1340.3 377.3 1350.3 377.9 1360.4 377.9 1364.7 379.8 1365.0 381.0 1367.5 384.8 1369.4 397.3 1371.9 416.7 1373.1 397.3 1375.0 386.7 1376.9 391.0 1378.5 395.4 1380.7 387.3 1383.2 379.8 1386.3 377.9 1402.6 377.9 1405.1 379.1 1406.3 397.3 1407.6 416.1 1410.1 416.7 1416.3 418.0 1417.6 403.6 1418.8 382.3 1421.3 379.1 1423.9 379.8 1426.4 382.3 1430.1 381.7 1433.2 379.1 1437.6 377.9 1442.6 378.5 1452.7 377.9 1460.2 377.9 1463.3 379.8 1465.2 387.3 1467.1 394.8 1468.7 386.0 1470.8 389.8 1472.1 409.8 1473.3 419.2 1477.7 419.2 1478.7 397.3 1479.9 379.8 1482.1 378.5 1486.5 378.5 1488.0 384.8 1489.0 409.8 1490.0 419.2 1491.2 403.6 1492.7 392.9 1494.2 403.6 1495.2 416.1 1496.2 397.3 1497.5 389.2 1499.6 391.0 1500.9 409.8 1502.1 417.3 1503.4 417.3 1504.6 397.3 1506.5 381.0 1509.0 378.5 1512.8 377.3 1520.3 377.9 1526.5 377.9 1531.5 378.5 1534.7 380.4 1535.9 397.3 1537.2 418.0 1540.3 418.6 1545.3 418.0 1546.6 397.3 1547.8 383.5 1550.3 382.3 1551.6 397.3 1552.8 421.1 1554.3 397.3 1556.0 377.9 1559.1 377.9 1564.1 378.5 1571.6 377.9 1574.1 378.5 1576.6 384.8 1578.5 403.6 1579.7 417.3 1581.4 418.0 1582.6 403.6 1584.1 388.5 1586.0 387.3 1587.3 397.3 1588.5 416.1 1589.8 418.0 1591.0 403.6 1592.3 390.4 1595.4 389.2 1597.3 383.5 1599.2 377.9 1601.7 377.3 1605.4 378.5 1610.4 377.9 1614.2 379.1 1617.9 382.3 1619.8 391.0 1621.1 409.8 1622.3 418.6 1624.8 421.1 1626.1 409.8 1627.3 391.0 1629.2 382.3 1632.3 378.5 1636.7 377.9 1646.7 377.9 1648.2 379.8 1649.5 397.3 1650.7 416.7 1652.0 397.3 1653.6 384.8 1656.8 379.8 1660.5 377.9 1665.5 377.9 1669.3 378.5 1671.5 379.1" fill="none" stroke="#2a80c0" stroke-width="1.2" stroke-linejoin="round" opacity="1"/>
<rect x="949.8" y="526.75" width="722.4000000000001" height="51.35000000000002" fill="none" stroke="#333333" stroke-width="1.25"/>
<text x="949.80" y="605.6" class="tk" text-anchor="middle">3</text>
<path d="M1022.04 578.1v-7M1022.04 526.75v7" stroke="#333333" stroke-width="1.25"/>
<text x="1022.04" y="605.6" class="tk" text-anchor="middle">3.1</text>
<path d="M1094.28 578.1v-7M1094.28 526.75v7" stroke="#333333" stroke-width="1.25"/>
<text x="1094.28" y="605.6" class="tk" text-anchor="middle">3.2</text>
<path d="M1166.52 578.1v-7M1166.52 526.75v7" stroke="#333333" stroke-width="1.25"/>
<text x="1166.52" y="605.6" class="tk" text-anchor="middle">3.3</text>
<path d="M1238.76 578.1v-7M1238.76 526.75v7" stroke="#333333" stroke-width="1.25"/>
<text x="1238.76" y="605.6" class="tk" text-anchor="middle">3.4</text>
<path d="M1311.00 578.1v-7M1311.00 526.75v7" stroke="#333333" stroke-width="1.25"/>
<text x="1311.00" y="605.6" class="tk" text-anchor="middle">3.5</text>
<path d="M1383.24 578.1v-7M1383.24 526.75v7" stroke="#333333" stroke-width="1.25"/>
<text x="1383.24" y="605.6" class="tk" text-anchor="middle">3.6</text>
<path d="M1455.48 578.1v-7M1455.48 526.75v7" stroke="#333333" stroke-width="1.25"/>
<text x="1455.48" y="605.6" class="tk" text-anchor="middle">3.7</text>
<path d="M1527.72 578.1v-7M1527.72 526.75v7" stroke="#333333" stroke-width="1.25"/>
<text x="1527.72" y="605.6" class="tk" text-anchor="middle">3.8</text>
<path d="M1599.96 578.1v-7M1599.96 526.75v7" stroke="#333333" stroke-width="1.25"/>
<text x="1599.96" y="605.6" class="tk" text-anchor="middle">3.9</text>
<text x="1672.20" y="605.6" class="tk" text-anchor="middle">4</text>
<text x="1311.00" y="635.5" class="lb" text-anchor="middle">Frequency (Hz)</text>
<text x="940.3" y="537.5" class="tk" text-anchor="end">10<tspan dy="-8.5" style="font-size:14px">0</tspan></text>
<path d="M949.8 538.3h3.5M1672.2 538.3h-3.5" stroke="#333333" stroke-width="1"/>
<path d="M949.8 550.8h3.5M1672.2 550.8h-3.5" stroke="#333333" stroke-width="1"/>
<path d="M949.8 563.3h3.5M1672.2 563.3h-3.5" stroke="#333333" stroke-width="1"/>
<path d="M949.8 575.8h3.5M1672.2 575.8h-3.5" stroke="#333333" stroke-width="1"/>
<text transform="translate(890.7 553.5) rotate(-90)" class="lb" text-anchor="middle" style="font-size:21px">i<tspan dy="10" style="font-size:16.5px">scale</tspan></text>
<path d="M950.0 544.5 951.0 569.6 952.5 574.0 955.0 574.6 956.9 572.1 958.1 547.0 960.0 537.0 963.8 533.9 970.0 533.3 982.6 533.9 984.1 537.0 985.3 548.9 987.6 547.7 990.1 551.4 992.3 547.0 994.5 539.5 999.5 534.5 1002.6 539.5 1006.4 543.9 1008.2 552.7 1009.9 551.4 1011.4 540.8 1013.2 534.5 1017.6 533.5 1025.1 533.5 1032.7 533.3 1038.9 534.5 1043.9 533.9 1048.3 534.5 1051.4 539.5 1054.6 544.5 1056.2 559.6 1057.4 574.6 1058.3 559.6 1059.6 542.7 1062.1 540.8 1064.0 534.5 1067.7 533.5 1080.9 533.5 1086.5 535.1 1090.3 539.5 1093.4 544.5 1097.1 538.3 1100.9 542.0 1104.0 545.2 1107.8 537.0 1110.3 533.9 1114.0 533.5 1125.9 533.5 1127.8 535.8 1130.1 541.4 1134.1 537.0 1139.1 543.9 1144.1 538.3 1149.1 534.5 1152.2 537.0 1154.7 541.4 1155.0 542.0 1157.5 540.8 1160.0 534.5 1163.8 533.3 1175.0 533.9 1181.3 534.5 1184.4 537.0 1188.2 535.1 1191.3 536.4 1193.2 542.0 1194.4 544.5 1196.9 541.4 1203.2 538.9 1205.1 533.9 1215.1 533.9 1220.1 532.6 1227.6 533.9 1232.6 536.4 1235.8 539.5 1237.6 542.0 1240.1 537.7 1245.2 539.5 1248.3 541.4 1250.8 543.9 1252.7 539.5 1256.4 538.9 1258.7 543.9 1260.8 539.5 1262.7 534.5 1267.7 533.5 1284.0 533.5 1286.5 535.8 1289.0 539.5 1290.2 553.3 1291.5 572.1 1293.4 575.2 1296.5 574.0 1300.9 572.7 1302.1 553.3 1303.4 535.8 1307.8 533.9 1310.3 538.3 1311.5 559.6 1312.8 577.1 1315.9 577.1 1317.8 553.3 1320.3 544.5 1321.5 534.5 1325.3 533.3 1330.3 533.3 1335.3 533.9 1342.2 534.5 1343.5 547.0 1344.7 569.6 1346.0 576.5 1348.5 576.5 1350.1 559.6 1351.6 540.8 1354.1 538.9 1355.3 547.0 1356.6 572.1 1358.5 573.3 1362.9 572.7 1364.1 553.3 1365.0 540.8 1365.0 538.3 1368.1 540.8 1370.6 549.5 1372.8 562.1 1374.0 547.0 1375.6 535.8 1377.5 533.9 1393.8 533.9 1396.3 535.8 1398.2 542.7 1400.1 544.5 1401.9 559.6 1403.2 574.6 1405.7 572.1 1407.6 565.8 1408.8 553.3 1410.3 565.8 1411.6 575.2 1413.2 559.6 1415.1 545.2 1416.6 544.5 1417.8 559.6 1419.1 577.1 1421.1 577.1 1422.3 553.3 1423.6 535.8 1426.4 533.9 1435.1 533.9 1448.3 533.5 1450.1 535.8 1451.4 559.6 1452.0 570.2 1453.3 559.6 1454.2 553.3 1455.2 565.8 1456.4 573.3 1457.9 559.6 1459.5 540.8 1462.0 534.5 1466.4 533.5 1472.7 533.9 1475.2 535.8 1477.1 547.0 1477.9 553.3 1479.2 543.3 1480.8 535.8 1483.3 534.5 1485.8 537.0 1487.5 553.3 1488.7 577.1 1491.5 577.1 1492.7 553.3 1494.6 542.0 1495.9 540.8 1497.1 548.9 1498.4 540.8 1500.2 535.1 1504.0 533.9 1515.3 533.5 1519.6 534.5 1521.5 538.3 1524.0 537.0 1525.9 538.9 1527.8 538.3 1532.2 548.9 1535.3 543.3 1537.2 547.0 1538.8 556.4 1540.9 542.7 1544.1 540.8 1545.9 559.6 1547.6 574.0 1549.3 553.3 1550.9 537.0 1553.5 534.5 1559.1 533.9 1567.9 533.9 1574.1 534.5 1584.1 533.9 1586.6 536.4 1590.4 538.9 1594.1 544.5 1596.7 553.3 1598.2 569.6 1599.4 573.3 1600.7 559.6 1602.3 544.5 1604.8 537.0 1607.9 533.9 1615.4 533.5 1626.7 533.5 1628.6 537.0 1631.1 542.0 1633.0 550.2 1634.8 545.2 1637.3 548.9 1638.6 559.6 1639.9 574.0 1641.1 559.6 1642.7 544.5 1644.9 538.3 1648.0 534.5 1653.0 533.9 1668.0 533.9 1669.9 538.3 1671.5 538.3" fill="none" stroke="#2a80c0" stroke-width="1.2" stroke-linejoin="round" opacity="1"/>
<rect x="949.8" y="682.75" width="722.4000000000001" height="51.35000000000002" fill="none" stroke="#333333" stroke-width="1.25"/>
<text x="949.80" y="761" class="tk" text-anchor="middle">4</text>
<path d="M1022.04 734.1v-7M1022.04 682.75v7" stroke="#333333" stroke-width="1.25"/>
<text x="1022.04" y="761" class="tk" text-anchor="middle">4.1</text>
<path d="M1094.28 734.1v-7M1094.28 682.75v7" stroke="#333333" stroke-width="1.25"/>
<text x="1094.28" y="761" class="tk" text-anchor="middle">4.2</text>
<path d="M1166.52 734.1v-7M1166.52 682.75v7" stroke="#333333" stroke-width="1.25"/>
<text x="1166.52" y="761" class="tk" text-anchor="middle">4.3</text>
<path d="M1238.76 734.1v-7M1238.76 682.75v7" stroke="#333333" stroke-width="1.25"/>
<text x="1238.76" y="761" class="tk" text-anchor="middle">4.4</text>
<path d="M1311.00 734.1v-7M1311.00 682.75v7" stroke="#333333" stroke-width="1.25"/>
<text x="1311.00" y="761" class="tk" text-anchor="middle">4.5</text>
<path d="M1383.24 734.1v-7M1383.24 682.75v7" stroke="#333333" stroke-width="1.25"/>
<text x="1383.24" y="761" class="tk" text-anchor="middle">4.6</text>
<path d="M1455.48 734.1v-7M1455.48 682.75v7" stroke="#333333" stroke-width="1.25"/>
<text x="1455.48" y="761" class="tk" text-anchor="middle">4.7</text>
<path d="M1527.72 734.1v-7M1527.72 682.75v7" stroke="#333333" stroke-width="1.25"/>
<text x="1527.72" y="761" class="tk" text-anchor="middle">4.8</text>
<path d="M1599.96 734.1v-7M1599.96 682.75v7" stroke="#333333" stroke-width="1.25"/>
<text x="1599.96" y="761" class="tk" text-anchor="middle">4.9</text>
<text x="1672.20" y="761" class="tk" text-anchor="middle">5</text>
<text x="1311.00" y="790.6" class="lb" text-anchor="middle">Frequency (Hz)</text>
<text x="940.3" y="693" class="tk" text-anchor="end">10<tspan dy="-8.5" style="font-size:14px">0</tspan></text>
<text x="940.3" y="722.5" class="tk" text-anchor="end">10<tspan dy="-8.5" style="font-size:14px">-2</tspan></text>
<path d="M949.8 711.8h7M1672.2 711.8h-7" stroke="#333333" stroke-width="1.25"/>
<path d="M949.8 683.2h3.5M1672.2 683.2h-3.5" stroke="#333333" stroke-width="1"/>
<path d="M949.8 683.9h3.5M1672.2 683.9h-3.5" stroke="#333333" stroke-width="1"/>
<path d="M949.8 684.8h3.5M1672.2 684.8h-3.5" stroke="#333333" stroke-width="1"/>
<path d="M949.8 685.8h3.5M1672.2 685.8h-3.5" stroke="#333333" stroke-width="1"/>
<path d="M949.8 686.9h3.5M1672.2 686.9h-3.5" stroke="#333333" stroke-width="1"/>
<path d="M949.8 688.3h3.5M1672.2 688.3h-3.5" stroke="#333333" stroke-width="1"/>
<path d="M949.8 690.2h3.5M1672.2 690.2h-3.5" stroke="#333333" stroke-width="1"/>
<path d="M949.8 692.7h3.5M1672.2 692.7h-3.5" stroke="#333333" stroke-width="1"/>
<path d="M949.8 697.1h3.5M1672.2 697.1h-3.5" stroke="#333333" stroke-width="1"/>
<path d="M949.8 697.8h3.5M1672.2 697.8h-3.5" stroke="#333333" stroke-width="1"/>
<path d="M949.8 698.6h3.5M1672.2 698.6h-3.5" stroke="#333333" stroke-width="1"/>
<path d="M949.8 699.4h3.5M1672.2 699.4h-3.5" stroke="#333333" stroke-width="1"/>
<path d="M949.8 700.4h3.5M1672.2 700.4h-3.5" stroke="#333333" stroke-width="1"/>
<path d="M949.8 701.6h3.5M1672.2 701.6h-3.5" stroke="#333333" stroke-width="1"/>
<path d="M949.8 703.0h3.5M1672.2 703.0h-3.5" stroke="#333333" stroke-width="1"/>
<path d="M949.8 704.8h3.5M1672.2 704.8h-3.5" stroke="#333333" stroke-width="1"/>
<path d="M949.8 707.4h3.5M1672.2 707.4h-3.5" stroke="#333333" stroke-width="1"/>
<path d="M949.8 711.8h3.5M1672.2 711.8h-3.5" stroke="#333333" stroke-width="1"/>
<path d="M949.8 712.5h3.5M1672.2 712.5h-3.5" stroke="#333333" stroke-width="1"/>
<path d="M949.8 713.2h3.5M1672.2 713.2h-3.5" stroke="#333333" stroke-width="1"/>
<path d="M949.8 714.1h3.5M1672.2 714.1h-3.5" stroke="#333333" stroke-width="1"/>
<path d="M949.8 715.1h3.5M1672.2 715.1h-3.5" stroke="#333333" stroke-width="1"/>
<path d="M949.8 716.2h3.5M1672.2 716.2h-3.5" stroke="#333333" stroke-width="1"/>
<path d="M949.8 717.6h3.5M1672.2 717.6h-3.5" stroke="#333333" stroke-width="1"/>
<path d="M949.8 719.5h3.5M1672.2 719.5h-3.5" stroke="#333333" stroke-width="1"/>
<path d="M949.8 722.0h3.5M1672.2 722.0h-3.5" stroke="#333333" stroke-width="1"/>
<path d="M949.8 726.4h3.5M1672.2 726.4h-3.5" stroke="#333333" stroke-width="1"/>
<path d="M949.8 727.1h3.5M1672.2 727.1h-3.5" stroke="#333333" stroke-width="1"/>
<path d="M949.8 727.9h3.5M1672.2 727.9h-3.5" stroke="#333333" stroke-width="1"/>
<path d="M949.8 728.7h3.5M1672.2 728.7h-3.5" stroke="#333333" stroke-width="1"/>
<path d="M949.8 729.7h3.5M1672.2 729.7h-3.5" stroke="#333333" stroke-width="1"/>
<path d="M949.8 730.9h3.5M1672.2 730.9h-3.5" stroke="#333333" stroke-width="1"/>
<path d="M949.8 732.3h3.5M1672.2 732.3h-3.5" stroke="#333333" stroke-width="1"/>
<text transform="translate(887 709) rotate(-90)" class="lb" text-anchor="middle" style="font-size:21px">i<tspan dy="10" style="font-size:16.5px">scale</tspan></text>
<path d="M950.3 719.3 951.3 709.3 952.5 714.3 954.4 710.6 956.3 703.0 958.8 697.4 961.3 690.5 965.0 689.9 974.4 690.5 976.3 698.0 979.4 702.4 981.3 708.7 983.2 706.2 985.7 701.8 988.2 695.5 990.7 691.1 997.6 690.3 1005.1 690.5 1008.9 689.5 1012.6 691.8 1015.7 696.8 1017.6 703.0 1018.6 721.8 1019.5 734.3 1020.8 721.8 1022.0 703.0 1024.5 695.5 1027.0 693.0 1030.1 695.5 1034.5 701.8 1037.0 701.8 1038.3 694.3 1040.8 691.1 1048.9 690.5 1056.4 689.5 1060.2 690.3 1062.1 695.5 1063.3 700.5 1065.8 699.9 1070.2 702.4 1071.7 704.3 1073.3 695.5 1076.5 691.1 1080.2 694.3 1084.0 698.7 1087.1 702.4 1089.0 708.1 1090.9 699.3 1093.4 691.1 1095.3 690.5 1111.5 690.5 1114.7 691.8 1118.4 698.7 1122.8 703.7 1125.9 698.0 1128.4 696.8 1130.9 699.3 1133.5 693.0 1136.6 690.5 1145.3 690.5 1154.7 690.0 1155.0 690.3 1164.4 690.3 1166.3 695.5 1170.0 696.8 1173.2 701.2 1177.5 696.8 1182.5 694.3 1188.8 694.9 1191.9 700.5 1195.1 695.5 1198.8 690.5 1208.8 690.5 1212.0 695.5 1214.5 699.3 1216.4 697.4 1220.1 703.0 1223.2 695.5 1227.0 693.0 1229.5 694.3 1232.6 690.5 1241.4 690.5 1244.5 694.3 1248.9 697.4 1252.7 701.2 1256.4 696.8 1260.2 692.4 1265.2 689.9 1271.5 690.5 1275.2 695.5 1279.0 703.7 1282.1 696.8 1286.5 692.4 1291.5 690.5 1299.0 690.5 1301.5 696.8 1305.3 697.4 1309.6 696.2 1314.7 698.7 1317.8 693.0 1321.5 691.1 1330.3 690.3 1341.6 691.1 1345.3 695.5 1349.1 699.9 1352.8 696.8 1356.6 693.0 1360.4 696.8 1364.7 695.8 1365.0 696.2 1368.8 696.8 1372.5 693.0 1376.3 691.1 1379.4 693.0 1383.8 695.5 1386.9 698.0 1390.0 696.2 1396.3 694.9 1400.1 698.7 1402.6 696.8 1405.7 694.3 1408.2 690.5 1423.9 690.5 1426.4 692.4 1428.9 696.2 1432.6 695.5 1437.6 692.4 1441.4 696.2 1445.1 700.5 1448.9 694.9 1452.7 693.7 1457.0 696.8 1460.2 690.5 1476.4 690.5 1478.3 692.4 1480.2 696.8 1486.5 696.2 1490.2 698.0 1495.2 694.9 1498.4 690.5 1512.8 690.5 1515.3 696.8 1518.4 694.9 1520.9 697.4 1525.3 696.8 1527.8 690.5 1537.8 690.5 1540.3 694.3 1543.4 699.3 1547.8 695.5 1552.2 693.7 1556.6 694.3 1559.1 689.9 1567.9 690.3 1576.6 689.9 1581.0 693.7 1586.6 696.8 1590.4 695.5 1594.8 698.7 1597.9 696.2 1600.4 690.5 1606.7 690.3 1615.4 690.3 1617.9 697.4 1622.9 695.5 1628.0 696.2 1632.3 696.8 1636.7 691.1 1641.7 690.5 1653.0 690.5 1663.0 689.9 1668.0 693.7 1671.5 692.4" fill="none" stroke="#2a80c0" stroke-width="1.2" stroke-linejoin="round" opacity="1"/>
</svg>
</body></html>
